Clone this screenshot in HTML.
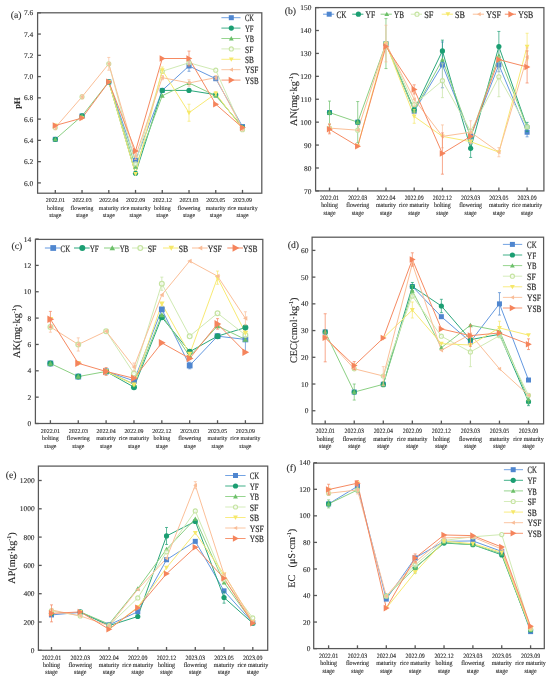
<!DOCTYPE html>
<html><head><meta charset="utf-8"><style>
html,body{margin:0;padding:0;background:#fff;}
body{width:550px;height:681px;overflow:hidden;}
svg{display:block;filter:blur(0.3px);}
text{font-family:"Liberation Serif",serif;fill:#2a2a2a;text-rendering:geometricPrecision;}
.lg{stroke:#2a2a2a;stroke-width:0.2px;}
text{stroke:#2a2a2a;stroke-width:0.12px;}
</style></head><body>
<svg width="550" height="681" viewBox="0 0 550 681">
<rect width="550" height="681" fill="#fff"/>
<path d="M108.79,81.90L135.53,160.57M135.53,160.57L162.27,90.41M162.27,90.41L189.01,65.96M189.01,65.96L215.76,78.71M215.76,78.71L242.50,126.55" fill="none" stroke="#6398e0" stroke-width="1.0" stroke-linecap="round"/>
<path d="M108.79,81.90L135.53,173.33M135.53,173.33L162.27,90.41M162.27,90.41L189.01,90.41M189.01,90.41L215.76,94.66M215.76,94.66L242.50,127.62" fill="none" stroke="#2ba77c" stroke-width="1.0" stroke-linecap="round"/>
<path d="M55.30,139.31L82.04,115.92M82.04,115.92L108.79,81.90M108.79,81.90L135.53,166.95M135.53,166.95L162.27,95.72M162.27,95.72L189.01,82.97M189.01,82.97L215.76,95.72M215.76,95.72L242.50,126.55" fill="none" stroke="#8bd083" stroke-width="1.0" stroke-linecap="round"/>
<path d="M108.79,63.83L135.53,163.76M135.53,163.76L162.27,71.27M162.27,71.27L189.01,62.77M189.01,62.77L215.76,70.21M215.76,70.21L242.50,129.74" fill="none" stroke="#d0eab3" stroke-width="1.0" stroke-linecap="round"/>
<path d="M108.79,81.90L135.53,173.86M135.53,173.86L162.27,70.21M162.27,70.21L189.01,112.73M189.01,112.73L215.76,93.60M215.76,93.60L242.50,128.68" fill="none" stroke="#f8ea74" stroke-width="1.0" stroke-linecap="round"/>
<path d="M55.30,127.62L82.04,96.79M82.04,96.79L108.79,63.83M108.79,63.83L135.53,156.32M135.53,156.32L162.27,77.65M162.27,77.65L189.01,82.97M189.01,82.97L215.76,77.65M215.76,77.65L242.50,128.68" fill="none" stroke="#fbbf98" stroke-width="1.0" stroke-linecap="round"/>
<path d="M55.30,125.49L82.04,118.05M82.04,118.05L108.79,81.90M108.79,81.90L135.53,151.01M135.53,151.01L162.27,58.51M162.27,58.51L189.01,58.51M189.01,58.51L215.76,104.23M215.76,104.23L242.50,127.62" fill="none" stroke="#f68a62" stroke-width="1.0" stroke-linecap="round"/>
<rect x="52.80" y="136.81" width="5.00" height="5.00" fill="#4f86cf"/>
<rect x="79.54" y="113.42" width="5.00" height="5.00" fill="#4f86cf"/>
<rect x="106.29" y="79.40" width="5.00" height="5.00" fill="#4f86cf"/>
<rect x="133.03" y="158.07" width="5.00" height="5.00" fill="#4f86cf"/>
<rect x="159.77" y="87.91" width="5.00" height="5.00" fill="#4f86cf"/>
<path d="M189.01,60.64V71.27M187.51,60.64h3M187.51,71.27h3" stroke="#4f86cf" stroke-width="0.7" fill="none"/>
<rect x="186.51" y="63.46" width="5.00" height="5.00" fill="#4f86cf"/>
<rect x="213.26" y="76.21" width="5.00" height="5.00" fill="#4f86cf"/>
<rect x="240.00" y="124.05" width="5.00" height="5.00" fill="#4f86cf"/>
<circle cx="55.30" cy="139.31" r="2.60" fill="#1b9e72"/>
<circle cx="82.04" cy="115.92" r="2.60" fill="#1b9e72"/>
<circle cx="108.79" cy="81.90" r="2.60" fill="#1b9e72"/>
<circle cx="135.53" cy="173.33" r="2.60" fill="#1b9e72"/>
<circle cx="162.27" cy="90.41" r="2.60" fill="#1b9e72"/>
<circle cx="189.01" cy="90.41" r="2.60" fill="#1b9e72"/>
<circle cx="215.76" cy="94.66" r="2.60" fill="#1b9e72"/>
<circle cx="242.50" cy="127.62" r="2.60" fill="#1b9e72"/>
<path d="M55.30,136.91L57.70,141.23L52.90,141.23Z" fill="#6cc06a"/>
<path d="M82.04,113.52L84.44,117.84L79.64,117.84Z" fill="#6cc06a"/>
<path d="M108.79,79.50L111.19,83.82L106.39,83.82Z" fill="#6cc06a"/>
<path d="M135.53,164.55L137.93,168.87L133.13,168.87Z" fill="#6cc06a"/>
<path d="M162.27,93.32L164.67,97.64L159.87,97.64Z" fill="#6cc06a"/>
<path d="M189.01,80.57L191.41,84.89L186.61,84.89Z" fill="#6cc06a"/>
<path d="M215.76,93.32L218.16,97.64L213.36,97.64Z" fill="#6cc06a"/>
<path d="M242.50,124.15L244.90,128.47L240.10,128.47Z" fill="#6cc06a"/>
<circle cx="55.30" cy="127.62" r="2.05" fill="#fff" fill-opacity="0.6" stroke="#c6e4a2" stroke-width="1.10"/>
<circle cx="82.04" cy="96.79" r="2.05" fill="#fff" fill-opacity="0.6" stroke="#c6e4a2" stroke-width="1.10"/>
<circle cx="108.79" cy="63.83" r="2.05" fill="#fff" fill-opacity="0.6" stroke="#c6e4a2" stroke-width="1.10"/>
<circle cx="135.53" cy="163.76" r="2.05" fill="#fff" fill-opacity="0.6" stroke="#c6e4a2" stroke-width="1.10"/>
<circle cx="162.27" cy="71.27" r="2.05" fill="#fff" fill-opacity="0.6" stroke="#c6e4a2" stroke-width="1.10"/>
<circle cx="189.01" cy="62.77" r="2.05" fill="#fff" fill-opacity="0.6" stroke="#c6e4a2" stroke-width="1.10"/>
<circle cx="215.76" cy="70.21" r="2.05" fill="#fff" fill-opacity="0.6" stroke="#c6e4a2" stroke-width="1.10"/>
<circle cx="242.50" cy="129.74" r="2.05" fill="#fff" fill-opacity="0.6" stroke="#c6e4a2" stroke-width="1.10"/>
<path d="M55.30,127.89L57.70,123.57L52.90,123.57Z" fill="#f6e86a"/>
<path d="M82.04,120.45L84.44,116.13L79.64,116.13Z" fill="#f6e86a"/>
<path d="M108.79,84.30L111.19,79.98L106.39,79.98Z" fill="#f6e86a"/>
<path d="M135.53,176.26L137.93,171.94L133.13,171.94Z" fill="#f6e86a"/>
<path d="M162.27,67.02V73.40M160.77,67.02h3M160.77,73.40h3" stroke="#f6e86a" stroke-width="0.7" fill="none"/>
<path d="M162.27,72.61L164.67,68.29L159.87,68.29Z" fill="#f6e86a"/>
<path d="M189.01,104.23V121.24M187.51,104.23h3M187.51,121.24h3" stroke="#f6e86a" stroke-width="0.7" fill="none"/>
<path d="M189.01,115.13L191.41,110.81L186.61,110.81Z" fill="#f6e86a"/>
<path d="M215.76,91.47V95.72M214.26,91.47h3M214.26,95.72h3" stroke="#f6e86a" stroke-width="0.7" fill="none"/>
<path d="M215.76,96.00L218.16,91.68L213.36,91.68Z" fill="#f6e86a"/>
<path d="M242.50,131.08L244.90,126.76L240.10,126.76Z" fill="#f6e86a"/>
<path d="M55.30,125.49V129.74M53.80,125.49h3M53.80,129.74h3" stroke="#f9bd98" stroke-width="0.7" fill="none"/>
<path d="M53.20,127.62L56.98,125.52L56.98,129.72Z" fill="#f9bd98"/>
<path d="M82.04,94.66V98.91M80.54,94.66h3M80.54,98.91h3" stroke="#f9bd98" stroke-width="0.7" fill="none"/>
<path d="M79.94,96.79L83.72,94.69L83.72,98.89Z" fill="#f9bd98"/>
<path d="M108.79,57.45V70.21M107.29,57.45h3M107.29,70.21h3" stroke="#f9bd98" stroke-width="0.7" fill="none"/>
<path d="M106.69,63.83L110.47,61.73L110.47,65.93Z" fill="#f9bd98"/>
<path d="M135.53,153.13V159.51M134.03,153.13h3M134.03,159.51h3" stroke="#f9bd98" stroke-width="0.7" fill="none"/>
<path d="M133.43,156.32L137.21,154.22L137.21,158.42Z" fill="#f9bd98"/>
<path d="M162.27,75.52V79.78M160.77,75.52h3M160.77,79.78h3" stroke="#f9bd98" stroke-width="0.7" fill="none"/>
<path d="M160.17,77.65L163.95,75.55L163.95,79.75Z" fill="#f9bd98"/>
<path d="M189.01,79.78V86.16M187.51,79.78h3M187.51,86.16h3" stroke="#f9bd98" stroke-width="0.7" fill="none"/>
<path d="M186.91,82.97L190.69,80.87L190.69,85.07Z" fill="#f9bd98"/>
<path d="M215.76,75.52V79.78M214.26,75.52h3M214.26,79.78h3" stroke="#f9bd98" stroke-width="0.7" fill="none"/>
<path d="M213.66,77.65L217.44,75.55L217.44,79.75Z" fill="#f9bd98"/>
<path d="M242.50,126.55V130.81M241.00,126.55h3M241.00,130.81h3" stroke="#f9bd98" stroke-width="0.7" fill="none"/>
<path d="M240.40,128.68L244.18,126.58L244.18,130.78Z" fill="#f9bd98"/>
<path d="M58.60,125.49L52.66,122.19L52.66,128.79Z" fill="#f5845c"/>
<path d="M85.34,118.05L79.40,114.75L79.40,121.35Z" fill="#f5845c"/>
<path d="M112.09,81.90L106.15,78.60L106.15,85.20Z" fill="#f5845c"/>
<path d="M138.83,151.01L132.89,147.71L132.89,154.31Z" fill="#f5845c"/>
<path d="M165.57,58.51L159.63,55.21L159.63,61.81Z" fill="#f5845c"/>
<path d="M189.01,51.07V65.96M187.51,51.07h3M187.51,65.96h3" stroke="#f5845c" stroke-width="0.7" fill="none"/>
<path d="M192.31,58.51L186.37,55.21L186.37,61.81Z" fill="#f5845c"/>
<path d="M219.06,104.23L213.12,100.93L213.12,107.53Z" fill="#f5845c"/>
<path d="M245.80,127.62L239.86,124.32L239.86,130.92Z" fill="#f5845c"/>
<rect x="37.6" y="12.8" width="224.20000000000002" height="180.39999999999998" fill="none" stroke="#585858" stroke-width="1.25"/>
<path d="M37.6,182.90h3.3" stroke="#585858" stroke-width="1.3"/>
<text transform="translate(33.20,185.53) scale(1.02,1)" font-size="7.3" text-anchor="end">6.0</text>
<path d="M37.6,161.64h3.3" stroke="#585858" stroke-width="1.3"/>
<text transform="translate(33.20,164.27) scale(1.02,1)" font-size="7.3" text-anchor="end">6.2</text>
<path d="M37.6,140.37h3.3" stroke="#585858" stroke-width="1.3"/>
<text transform="translate(33.20,143.00) scale(1.02,1)" font-size="7.3" text-anchor="end">6.4</text>
<path d="M37.6,119.11h3.3" stroke="#585858" stroke-width="1.3"/>
<text transform="translate(33.20,121.74) scale(1.02,1)" font-size="7.3" text-anchor="end">6.6</text>
<path d="M37.6,97.85h3.3" stroke="#585858" stroke-width="1.3"/>
<text transform="translate(33.20,100.48) scale(1.02,1)" font-size="7.3" text-anchor="end">6.8</text>
<path d="M37.6,76.59h3.3" stroke="#585858" stroke-width="1.3"/>
<text transform="translate(33.20,79.22) scale(1.02,1)" font-size="7.3" text-anchor="end">7.0</text>
<path d="M37.6,55.32h3.3" stroke="#585858" stroke-width="1.3"/>
<text transform="translate(33.20,57.95) scale(1.02,1)" font-size="7.3" text-anchor="end">7.2</text>
<path d="M37.6,34.06h3.3" stroke="#585858" stroke-width="1.3"/>
<text transform="translate(33.20,36.69) scale(1.02,1)" font-size="7.3" text-anchor="end">7.4</text>
<path d="M37.6,12.80h3.3" stroke="#585858" stroke-width="1.3"/>
<text transform="translate(33.20,15.43) scale(1.02,1)" font-size="7.3" text-anchor="end">7.6</text>
<path d="M55.30,193.2v-3.3" stroke="#585858" stroke-width="1.3"/>
<text transform="translate(55.30,202.30) scale(0.98,1)" font-size="6.0" text-anchor="middle">2022.01</text>
<text transform="translate(55.30,209.80) scale(0.98,1)" font-size="6.0" text-anchor="middle">bolting</text>
<text transform="translate(55.30,217.30) scale(0.98,1)" font-size="6.0" text-anchor="middle">stage</text>
<path d="M82.04,193.2v-3.3" stroke="#585858" stroke-width="1.3"/>
<text transform="translate(82.04,202.30) scale(0.98,1)" font-size="6.0" text-anchor="middle">2022.03</text>
<text transform="translate(82.04,209.80) scale(0.98,1)" font-size="6.0" text-anchor="middle">flowering</text>
<text transform="translate(82.04,217.30) scale(0.98,1)" font-size="6.0" text-anchor="middle">stage</text>
<path d="M108.79,193.2v-3.3" stroke="#585858" stroke-width="1.3"/>
<text transform="translate(108.79,202.30) scale(0.98,1)" font-size="6.0" text-anchor="middle">2022.04</text>
<text transform="translate(108.79,209.80) scale(0.98,1)" font-size="6.0" text-anchor="middle">maturity</text>
<text transform="translate(108.79,217.30) scale(0.98,1)" font-size="6.0" text-anchor="middle">stage</text>
<path d="M135.53,193.2v-3.3" stroke="#585858" stroke-width="1.3"/>
<text transform="translate(135.53,202.30) scale(0.98,1)" font-size="6.0" text-anchor="middle">2022.09</text>
<text transform="translate(135.53,209.80) scale(0.98,1)" font-size="6.0" text-anchor="middle">rice maturity</text>
<text transform="translate(135.53,217.30) scale(0.98,1)" font-size="6.0" text-anchor="middle">stage</text>
<path d="M162.27,193.2v-3.3" stroke="#585858" stroke-width="1.3"/>
<text transform="translate(162.27,202.30) scale(0.98,1)" font-size="6.0" text-anchor="middle">2022.12</text>
<text transform="translate(162.27,209.80) scale(0.98,1)" font-size="6.0" text-anchor="middle">bolting</text>
<text transform="translate(162.27,217.30) scale(0.98,1)" font-size="6.0" text-anchor="middle">stage</text>
<path d="M189.01,193.2v-3.3" stroke="#585858" stroke-width="1.3"/>
<text transform="translate(189.01,202.30) scale(0.98,1)" font-size="6.0" text-anchor="middle">2023.03</text>
<text transform="translate(189.01,209.80) scale(0.98,1)" font-size="6.0" text-anchor="middle">flowering</text>
<text transform="translate(189.01,217.30) scale(0.98,1)" font-size="6.0" text-anchor="middle">stage</text>
<path d="M215.76,193.2v-3.3" stroke="#585858" stroke-width="1.3"/>
<text transform="translate(215.76,202.30) scale(0.98,1)" font-size="6.0" text-anchor="middle">2023.05</text>
<text transform="translate(215.76,209.80) scale(0.98,1)" font-size="6.0" text-anchor="middle">maturity</text>
<text transform="translate(215.76,217.30) scale(0.98,1)" font-size="6.0" text-anchor="middle">stage</text>
<path d="M242.50,193.2v-3.3" stroke="#585858" stroke-width="1.3"/>
<text transform="translate(242.50,202.30) scale(0.98,1)" font-size="6.0" text-anchor="middle">2023.09</text>
<text transform="translate(242.50,209.80) scale(0.98,1)" font-size="6.0" text-anchor="middle">rice maturity</text>
<text transform="translate(242.50,217.30) scale(0.98,1)" font-size="6.0" text-anchor="middle">stage</text>
<text x="10.7" y="18.3" font-size="9.7">(a)</text>
<text transform="translate(19.8,103.0) rotate(-90)" x="0" y="0" font-size="8.6" text-anchor="middle" font-weight="bold">pH</text>
<path d="M221.4,17.70H240.5" stroke="#6398e0" stroke-width="0.9"/>
<rect x="228.80" y="15.20" width="5.00" height="5.00" fill="#4f86cf"/>
<text x="245.0" y="21.35" font-size="9.6" class="lg" textLength="9.01" lengthAdjust="spacingAndGlyphs">CK</text>
<path d="M221.4,28.10H240.5" stroke="#2ba77c" stroke-width="0.9"/>
<circle cx="231.30" cy="28.10" r="2.60" fill="#1b9e72"/>
<text x="245.0" y="31.75" font-size="9.6" class="lg" textLength="8.61" lengthAdjust="spacingAndGlyphs">YF</text>
<path d="M221.4,38.50H240.5" stroke="#8bd083" stroke-width="0.9"/>
<path d="M231.30,36.10L233.70,40.42L228.90,40.42Z" fill="#6cc06a"/>
<text x="245.0" y="42.15" font-size="9.6" class="lg" textLength="8.91" lengthAdjust="spacingAndGlyphs">YB</text>
<path d="M221.4,48.90H240.5" stroke="#d0eab3" stroke-width="0.9"/>
<circle cx="231.30" cy="48.90" r="2.05" fill="#fff" fill-opacity="0.6" stroke="#c6e4a2" stroke-width="1.10"/>
<text x="245.0" y="52.55" font-size="9.6" class="lg" textLength="8.32" lengthAdjust="spacingAndGlyphs">SF</text>
<path d="M221.4,59.30H240.5" stroke="#f8ea74" stroke-width="0.9"/>
<path d="M231.30,61.70L233.70,57.38L228.90,57.38Z" fill="#f6e86a"/>
<text x="245.0" y="62.95" font-size="9.6" class="lg" textLength="8.91" lengthAdjust="spacingAndGlyphs">SB</text>
<path d="M221.4,69.70H240.5" stroke="#fbbf98" stroke-width="0.9"/>
<path d="M229.20,69.70L232.98,67.60L232.98,71.80Z" fill="#f9bd98"/>
<text x="245.0" y="73.35" font-size="9.6" class="lg" textLength="13.37" lengthAdjust="spacingAndGlyphs">YSF</text>
<path d="M221.4,80.10H240.5" stroke="#f68a62" stroke-width="0.9"/>
<path d="M234.60,80.10L228.66,76.80L228.66,83.40Z" fill="#f5845c"/>
<text x="245.0" y="83.75" font-size="9.6" class="lg" textLength="13.56" lengthAdjust="spacingAndGlyphs">YSB</text>
<path d="M385.96,43.57L414.19,111.16M414.19,111.16L442.41,64.88M442.41,64.88L470.64,136.37M470.64,136.37L498.87,64.88M498.87,64.88L527.10,132.24" fill="none" stroke="#6398e0" stroke-width="1.0" stroke-linecap="round"/>
<path d="M385.96,43.57L414.19,109.79M414.19,109.79L442.41,50.90M442.41,50.90L470.64,148.28M470.64,148.28L498.87,46.55M498.87,46.55L527.10,126.97" fill="none" stroke="#2ba77c" stroke-width="1.0" stroke-linecap="round"/>
<path d="M329.50,112.54L357.73,122.16M357.73,122.16L385.96,43.57M385.96,43.57L414.19,110.71M414.19,110.71L442.41,59.61M442.41,59.61L470.64,136.37M470.64,136.37L498.87,55.72M498.87,55.72L527.10,126.97" fill="none" stroke="#8bd083" stroke-width="1.0" stroke-linecap="round"/>
<path d="M385.96,43.57L414.19,104.52M414.19,104.52L442.41,80.69M442.41,80.69L470.64,131.10M470.64,131.10L498.87,76.80M498.87,76.80L527.10,126.97" fill="none" stroke="#d0eab3" stroke-width="1.0" stroke-linecap="round"/>
<path d="M357.73,146.22L385.96,43.57M385.96,43.57L414.19,116.43M414.19,116.43L442.41,136.37M442.41,136.37L470.64,141.64M470.64,141.64L498.87,152.18M498.87,152.18L527.10,46.55" fill="none" stroke="#f8ea74" stroke-width="1.0" stroke-linecap="round"/>
<path d="M329.50,128.12L357.73,130.18M357.73,130.18L385.96,43.57M385.96,43.57L414.19,99.25M414.19,99.25L442.41,136.37M442.41,136.37L470.64,132.24M470.64,132.24L498.87,152.18M498.87,152.18L527.10,57.09" fill="none" stroke="#fbbf98" stroke-width="1.0" stroke-linecap="round"/>
<path d="M329.50,129.27L357.73,146.22M357.73,146.22L385.96,46.55M385.96,46.55L414.19,89.40M414.19,89.40L442.41,153.55M442.41,153.55L470.64,136.37M470.64,136.37L498.87,59.61M498.87,59.61L527.10,66.94" fill="none" stroke="#f68a62" stroke-width="1.0" stroke-linecap="round"/>
<rect x="327.00" y="110.04" width="5.00" height="5.00" fill="#4f86cf"/>
<rect x="355.23" y="119.66" width="5.00" height="5.00" fill="#4f86cf"/>
<rect x="383.46" y="41.07" width="5.00" height="5.00" fill="#4f86cf"/>
<rect x="411.69" y="108.66" width="5.00" height="5.00" fill="#4f86cf"/>
<path d="M442.41,41.97V87.79M440.91,41.97h3M440.91,87.79h3" stroke="#4f86cf" stroke-width="0.7" fill="none"/>
<rect x="439.91" y="62.38" width="5.00" height="5.00" fill="#4f86cf"/>
<path d="M470.64,129.49V143.24M469.14,129.49h3M469.14,143.24h3" stroke="#4f86cf" stroke-width="0.7" fill="none"/>
<rect x="468.14" y="133.87" width="5.00" height="5.00" fill="#4f86cf"/>
<path d="M498.87,58.01V71.75M497.37,58.01h3M497.37,71.75h3" stroke="#4f86cf" stroke-width="0.7" fill="none"/>
<rect x="496.37" y="62.38" width="5.00" height="5.00" fill="#4f86cf"/>
<path d="M527.10,127.66V136.83M525.60,127.66h3M525.60,136.83h3" stroke="#4f86cf" stroke-width="0.7" fill="none"/>
<rect x="524.60" y="129.74" width="5.00" height="5.00" fill="#4f86cf"/>
<circle cx="329.50" cy="112.54" r="2.60" fill="#1b9e72"/>
<circle cx="357.73" cy="122.16" r="2.60" fill="#1b9e72"/>
<circle cx="385.96" cy="43.57" r="2.60" fill="#1b9e72"/>
<circle cx="414.19" cy="109.79" r="2.60" fill="#1b9e72"/>
<path d="M442.41,40.14V61.67M440.91,40.14h3M440.91,61.67h3" stroke="#1b9e72" stroke-width="0.7" fill="none"/>
<circle cx="442.41" cy="50.90" r="2.60" fill="#1b9e72"/>
<path d="M470.64,139.12V157.45M469.14,139.12h3M469.14,157.45h3" stroke="#1b9e72" stroke-width="0.7" fill="none"/>
<circle cx="470.64" cy="148.28" r="2.60" fill="#1b9e72"/>
<path d="M498.87,31.43V61.67M497.37,31.43h3M497.37,61.67h3" stroke="#1b9e72" stroke-width="0.7" fill="none"/>
<circle cx="498.87" cy="46.55" r="2.60" fill="#1b9e72"/>
<path d="M527.10,122.39V131.56M525.60,122.39h3M525.60,131.56h3" stroke="#1b9e72" stroke-width="0.7" fill="none"/>
<circle cx="527.10" cy="126.97" r="2.60" fill="#1b9e72"/>
<path d="M329.50,101.08V124.00M328.00,101.08h3M328.00,124.00h3" stroke="#6cc06a" stroke-width="0.7" fill="none"/>
<path d="M329.50,110.14L331.90,114.46L327.10,114.46Z" fill="#6cc06a"/>
<path d="M357.73,101.54V142.78M356.23,101.54h3M356.23,142.78h3" stroke="#6cc06a" stroke-width="0.7" fill="none"/>
<path d="M357.73,119.76L360.13,124.08L355.33,124.08Z" fill="#6cc06a"/>
<path d="M385.96,18.60V68.55M384.46,18.60h3M384.46,68.55h3" stroke="#6cc06a" stroke-width="0.7" fill="none"/>
<path d="M385.96,41.17L388.36,45.49L383.56,45.49Z" fill="#6cc06a"/>
<path d="M414.19,108.31L416.59,112.63L411.79,112.63Z" fill="#6cc06a"/>
<path d="M442.41,57.21L444.81,61.53L440.01,61.53Z" fill="#6cc06a"/>
<path d="M470.64,133.97L473.04,138.29L468.24,138.29Z" fill="#6cc06a"/>
<path d="M498.87,53.32L501.27,57.64L496.47,57.64Z" fill="#6cc06a"/>
<path d="M527.10,124.57L529.50,128.89L524.70,128.89Z" fill="#6cc06a"/>
<circle cx="329.50" cy="128.12" r="2.05" fill="#fff" fill-opacity="0.6" stroke="#c6e4a2" stroke-width="1.10"/>
<circle cx="357.73" cy="130.18" r="2.05" fill="#fff" fill-opacity="0.6" stroke="#c6e4a2" stroke-width="1.10"/>
<circle cx="385.96" cy="43.57" r="2.05" fill="#fff" fill-opacity="0.6" stroke="#c6e4a2" stroke-width="1.10"/>
<circle cx="414.19" cy="104.52" r="2.05" fill="#fff" fill-opacity="0.6" stroke="#c6e4a2" stroke-width="1.10"/>
<path d="M442.41,63.74V97.65M440.91,63.74h3M440.91,97.65h3" stroke="#c6e4a2" stroke-width="0.7" fill="none"/>
<circle cx="442.41" cy="80.69" r="2.05" fill="#fff" fill-opacity="0.6" stroke="#c6e4a2" stroke-width="1.10"/>
<circle cx="470.64" cy="131.10" r="2.05" fill="#fff" fill-opacity="0.6" stroke="#c6e4a2" stroke-width="1.10"/>
<path d="M498.87,56.86V96.73M497.37,56.86h3M497.37,96.73h3" stroke="#c6e4a2" stroke-width="0.7" fill="none"/>
<circle cx="498.87" cy="76.80" r="2.05" fill="#fff" fill-opacity="0.6" stroke="#c6e4a2" stroke-width="1.10"/>
<circle cx="527.10" cy="126.97" r="2.05" fill="#fff" fill-opacity="0.6" stroke="#c6e4a2" stroke-width="1.10"/>
<path d="M329.50,131.67L331.90,127.35L327.10,127.35Z" fill="#f6e86a"/>
<path d="M357.73,148.62L360.13,144.30L355.33,144.30Z" fill="#f6e86a"/>
<path d="M385.96,45.97L388.36,41.65L383.56,41.65Z" fill="#f6e86a"/>
<path d="M414.19,109.56V123.31M412.69,109.56h3M412.69,123.31h3" stroke="#f6e86a" stroke-width="0.7" fill="none"/>
<path d="M414.19,118.83L416.59,114.51L411.79,114.51Z" fill="#f6e86a"/>
<path d="M442.41,138.77L444.81,134.45L440.01,134.45Z" fill="#f6e86a"/>
<path d="M470.64,144.04L473.04,139.72L468.24,139.72Z" fill="#f6e86a"/>
<path d="M498.87,154.58L501.27,150.26L496.47,150.26Z" fill="#f6e86a"/>
<path d="M527.10,33.26V59.84M525.60,33.26h3M525.60,59.84h3" stroke="#f6e86a" stroke-width="0.7" fill="none"/>
<path d="M527.10,48.95L529.50,44.63L524.70,44.63Z" fill="#f6e86a"/>
<path d="M329.50,123.54V132.70M328.00,123.54h3M328.00,132.70h3" stroke="#f9bd98" stroke-width="0.7" fill="none"/>
<path d="M327.40,128.12L331.18,126.02L331.18,130.22Z" fill="#f9bd98"/>
<path d="M355.63,130.18L359.41,128.08L359.41,132.28Z" fill="#f9bd98"/>
<path d="M385.96,25.24V61.90M384.46,25.24h3M384.46,61.90h3" stroke="#f9bd98" stroke-width="0.7" fill="none"/>
<path d="M383.86,43.57L387.64,41.47L387.64,45.67Z" fill="#f9bd98"/>
<path d="M414.19,92.38V106.12M412.69,92.38h3M412.69,106.12h3" stroke="#f9bd98" stroke-width="0.7" fill="none"/>
<path d="M412.09,99.25L415.87,97.15L415.87,101.35Z" fill="#f9bd98"/>
<path d="M442.41,124.91V147.82M440.91,124.91h3M440.91,147.82h3" stroke="#f9bd98" stroke-width="0.7" fill="none"/>
<path d="M440.31,136.37L444.09,134.27L444.09,138.47Z" fill="#f9bd98"/>
<path d="M470.64,120.79V143.70M469.14,120.79h3M469.14,143.70h3" stroke="#f9bd98" stroke-width="0.7" fill="none"/>
<path d="M468.54,132.24L472.32,130.14L472.32,134.34Z" fill="#f9bd98"/>
<path d="M498.87,147.60V156.76M497.37,147.60h3M497.37,156.76h3" stroke="#f9bd98" stroke-width="0.7" fill="none"/>
<path d="M496.77,152.18L500.55,150.08L500.55,154.28Z" fill="#f9bd98"/>
<path d="M527.10,47.93V66.26M525.60,47.93h3M525.60,66.26h3" stroke="#f9bd98" stroke-width="0.7" fill="none"/>
<path d="M525.00,57.09L528.78,54.99L528.78,59.19Z" fill="#f9bd98"/>
<path d="M329.50,124.68V133.85M328.00,124.68h3M328.00,133.85h3" stroke="#f5845c" stroke-width="0.7" fill="none"/>
<path d="M332.80,129.27L326.86,125.97L326.86,132.57Z" fill="#f5845c"/>
<path d="M361.03,146.22L355.09,142.92L355.09,149.52Z" fill="#f5845c"/>
<path d="M389.26,46.55L383.32,43.25L383.32,49.85Z" fill="#f5845c"/>
<path d="M414.19,84.82V93.98M412.69,84.82h3M412.69,93.98h3" stroke="#f5845c" stroke-width="0.7" fill="none"/>
<path d="M417.49,89.40L411.55,86.10L411.55,92.70Z" fill="#f5845c"/>
<path d="M442.41,132.93V174.17M440.91,132.93h3M440.91,174.17h3" stroke="#f5845c" stroke-width="0.7" fill="none"/>
<path d="M445.71,153.55L439.77,150.25L439.77,156.85Z" fill="#f5845c"/>
<path d="M473.94,136.37L468.00,133.07L468.00,139.67Z" fill="#f5845c"/>
<path d="M502.17,59.61L496.23,56.31L496.23,62.91Z" fill="#f5845c"/>
<path d="M527.10,50.90V82.98M525.60,50.90h3M525.60,82.98h3" stroke="#f5845c" stroke-width="0.7" fill="none"/>
<path d="M530.40,66.94L524.46,63.64L524.46,70.24Z" fill="#f5845c"/>
<rect x="315.6" y="7.6" width="228.29999999999995" height="183.3" fill="none" stroke="#585858" stroke-width="1.25"/>
<path d="M315.6,190.90h3.3" stroke="#585858" stroke-width="1.3"/>
<text transform="translate(311.50,193.53) scale(1.02,1)" font-size="7.3" text-anchor="end">70</text>
<path d="M315.6,167.99h3.3" stroke="#585858" stroke-width="1.3"/>
<text transform="translate(311.50,170.62) scale(1.02,1)" font-size="7.3" text-anchor="end">80</text>
<path d="M315.6,145.07h3.3" stroke="#585858" stroke-width="1.3"/>
<text transform="translate(311.50,147.70) scale(1.02,1)" font-size="7.3" text-anchor="end">90</text>
<path d="M315.6,122.16h3.3" stroke="#585858" stroke-width="1.3"/>
<text transform="translate(311.50,124.79) scale(1.02,1)" font-size="7.3" text-anchor="end">100</text>
<path d="M315.6,99.25h3.3" stroke="#585858" stroke-width="1.3"/>
<text transform="translate(311.50,101.88) scale(1.02,1)" font-size="7.3" text-anchor="end">110</text>
<path d="M315.6,76.34h3.3" stroke="#585858" stroke-width="1.3"/>
<text transform="translate(311.50,78.97) scale(1.02,1)" font-size="7.3" text-anchor="end">120</text>
<path d="M315.6,53.43h3.3" stroke="#585858" stroke-width="1.3"/>
<text transform="translate(311.50,56.05) scale(1.02,1)" font-size="7.3" text-anchor="end">130</text>
<path d="M315.6,30.51h3.3" stroke="#585858" stroke-width="1.3"/>
<text transform="translate(311.50,33.14) scale(1.02,1)" font-size="7.3" text-anchor="end">140</text>
<path d="M315.6,7.60h3.3" stroke="#585858" stroke-width="1.3"/>
<text transform="translate(311.50,10.23) scale(1.02,1)" font-size="7.3" text-anchor="end">150</text>
<path d="M329.50,190.9v-3.3" stroke="#585858" stroke-width="1.3"/>
<text transform="translate(329.50,199.70) scale(0.89,1)" font-size="6.6" text-anchor="middle">2022.01</text>
<text transform="translate(329.50,207.45) scale(0.89,1)" font-size="6.6" text-anchor="middle">bolting</text>
<text transform="translate(329.50,215.20) scale(0.89,1)" font-size="6.6" text-anchor="middle">stage</text>
<path d="M357.73,190.9v-3.3" stroke="#585858" stroke-width="1.3"/>
<text transform="translate(357.73,199.70) scale(0.89,1)" font-size="6.6" text-anchor="middle">2022.03</text>
<text transform="translate(357.73,207.45) scale(0.89,1)" font-size="6.6" text-anchor="middle">flowering</text>
<text transform="translate(357.73,215.20) scale(0.89,1)" font-size="6.6" text-anchor="middle">stage</text>
<path d="M385.96,190.9v-3.3" stroke="#585858" stroke-width="1.3"/>
<text transform="translate(385.96,199.70) scale(0.89,1)" font-size="6.6" text-anchor="middle">2022.04</text>
<text transform="translate(385.96,207.45) scale(0.89,1)" font-size="6.6" text-anchor="middle">maturity</text>
<text transform="translate(385.96,215.20) scale(0.89,1)" font-size="6.6" text-anchor="middle">stage</text>
<path d="M414.19,190.9v-3.3" stroke="#585858" stroke-width="1.3"/>
<text transform="translate(414.19,199.70) scale(0.89,1)" font-size="6.6" text-anchor="middle">2022.09</text>
<text transform="translate(414.19,207.45) scale(0.89,1)" font-size="6.6" text-anchor="middle">rice maturity</text>
<text transform="translate(414.19,215.20) scale(0.89,1)" font-size="6.6" text-anchor="middle">stage</text>
<path d="M442.41,190.9v-3.3" stroke="#585858" stroke-width="1.3"/>
<text transform="translate(442.41,199.70) scale(0.89,1)" font-size="6.6" text-anchor="middle">2022.12</text>
<text transform="translate(442.41,207.45) scale(0.89,1)" font-size="6.6" text-anchor="middle">bolting</text>
<text transform="translate(442.41,215.20) scale(0.89,1)" font-size="6.6" text-anchor="middle">stage</text>
<path d="M470.64,190.9v-3.3" stroke="#585858" stroke-width="1.3"/>
<text transform="translate(470.64,199.70) scale(0.89,1)" font-size="6.6" text-anchor="middle">2023.03</text>
<text transform="translate(470.64,207.45) scale(0.89,1)" font-size="6.6" text-anchor="middle">flowering</text>
<text transform="translate(470.64,215.20) scale(0.89,1)" font-size="6.6" text-anchor="middle">stage</text>
<path d="M498.87,190.9v-3.3" stroke="#585858" stroke-width="1.3"/>
<text transform="translate(498.87,199.70) scale(0.89,1)" font-size="6.6" text-anchor="middle">2023.05</text>
<text transform="translate(498.87,207.45) scale(0.89,1)" font-size="6.6" text-anchor="middle">maturity</text>
<text transform="translate(498.87,215.20) scale(0.89,1)" font-size="6.6" text-anchor="middle">stage</text>
<path d="M527.10,190.9v-3.3" stroke="#585858" stroke-width="1.3"/>
<text transform="translate(527.10,199.70) scale(0.89,1)" font-size="6.6" text-anchor="middle">2023.09</text>
<text transform="translate(527.10,207.45) scale(0.89,1)" font-size="6.6" text-anchor="middle">rice maturity</text>
<text transform="translate(527.10,215.20) scale(0.89,1)" font-size="6.6" text-anchor="middle">stage</text>
<text x="284.8" y="14.3" font-size="9.7">(b)</text>
<text transform="translate(297.2,99.4) rotate(-90)" x="0" y="0" font-size="10.2" text-anchor="middle" >AN(mg&#183;kg<tspan dy='-4' font-size='6'>-1</tspan><tspan dy='4'>)</tspan></text>
<path d="M323.00,14.20H334.20" stroke="#6398e0" stroke-width="1"/>
<rect x="326.70" y="11.70" width="5.00" height="5.00" fill="#4f86cf"/>
<text x="336.40" y="17.92" font-size="9.8" class="lg" textLength="10.01" lengthAdjust="spacingAndGlyphs">CK</text>
<path d="M352.20,14.20H363.40" stroke="#2ba77c" stroke-width="1"/>
<circle cx="358.40" cy="14.20" r="2.60" fill="#1b9e72"/>
<text x="365.60" y="17.92" font-size="9.8" class="lg" textLength="9.57" lengthAdjust="spacingAndGlyphs">YF</text>
<path d="M380.60,14.20H391.80" stroke="#8bd083" stroke-width="1"/>
<path d="M386.80,11.80L389.20,16.12L384.40,16.12Z" fill="#6cc06a"/>
<text x="394.00" y="17.92" font-size="9.8" class="lg" textLength="9.90" lengthAdjust="spacingAndGlyphs">YB</text>
<path d="M410.80,14.20H422.00" stroke="#d0eab3" stroke-width="1"/>
<circle cx="417.00" cy="14.20" r="2.05" fill="#fff" fill-opacity="0.6" stroke="#c6e4a2" stroke-width="1.10"/>
<text x="424.20" y="17.92" font-size="9.8" class="lg" textLength="9.24" lengthAdjust="spacingAndGlyphs">SF</text>
<path d="M441.70,14.20H452.90" stroke="#f8ea74" stroke-width="1"/>
<path d="M447.90,16.60L450.30,12.28L445.50,12.28Z" fill="#f6e86a"/>
<text x="455.10" y="17.92" font-size="9.8" class="lg" textLength="9.90" lengthAdjust="spacingAndGlyphs">SB</text>
<path d="M472.80,14.20H484.00" stroke="#fbbf98" stroke-width="1"/>
<path d="M476.90,14.20L480.68,12.10L480.68,16.30Z" fill="#f9bd98"/>
<text x="486.20" y="17.92" font-size="9.8" class="lg" textLength="14.85" lengthAdjust="spacingAndGlyphs">YSF</text>
<path d="M504.80,14.20H516.00" stroke="#f68a62" stroke-width="1"/>
<path d="M514.30,14.20L508.36,10.90L508.36,17.50Z" fill="#f5845c"/>
<text x="518.20" y="17.92" font-size="9.8" class="lg" textLength="15.07" lengthAdjust="spacingAndGlyphs">YSB</text>
<path d="M106.11,371.46L133.97,380.81M133.97,380.81L161.83,309.40M161.83,309.40L189.69,365.53M189.69,365.53L217.54,336.15M217.54,336.15L245.40,339.44" fill="none" stroke="#6398e0" stroke-width="1.0" stroke-linecap="round"/>
<path d="M106.11,371.46L133.97,387.14M133.97,387.14L161.83,317.18M161.83,317.18L189.69,351.70M189.69,351.70L217.54,336.15M217.54,336.15L245.40,327.59" fill="none" stroke="#2ba77c" stroke-width="1.0" stroke-linecap="round"/>
<path d="M50.40,363.42L78.26,376.60M78.26,376.60L106.11,371.46M106.11,371.46L133.97,383.98M133.97,383.98L161.83,314.94M161.83,314.94L189.69,356.31M189.69,356.31L217.54,326.00M217.54,326.00L245.40,339.44" fill="none" stroke="#8bd083" stroke-width="1.0" stroke-linecap="round"/>
<path d="M106.11,331.27L133.97,373.44M133.97,373.44L161.83,283.71M161.83,283.71L189.69,336.15M189.69,336.15L217.54,313.23M217.54,313.23L245.40,334.96" fill="none" stroke="#d0eab3" stroke-width="1.0" stroke-linecap="round"/>
<path d="M106.11,371.46L133.97,384.63M133.97,384.63L161.83,303.74M161.83,303.74L189.69,354.07M189.69,354.07L217.54,277.65M217.54,277.65L245.40,332.86" fill="none" stroke="#f8ea74" stroke-width="1.0" stroke-linecap="round"/>
<path d="M50.40,326.93L78.26,344.45M78.26,344.45L106.11,331.27M106.11,331.27L133.97,366.98M133.97,366.98L161.83,294.91M161.83,294.91L189.69,261.05M189.69,261.05L217.54,276.20M217.54,276.20L245.40,318.36" fill="none" stroke="#fbbf98" stroke-width="1.0" stroke-linecap="round"/>
<path d="M50.40,319.29L78.26,363.29M78.26,363.29L106.11,371.46M106.11,371.46L133.97,378.31M133.97,378.31L161.83,342.87M161.83,342.87L189.69,358.42M189.69,358.42L217.54,323.90M217.54,323.90L245.40,352.22" fill="none" stroke="#f68a62" stroke-width="1.0" stroke-linecap="round"/>
<rect x="47.52" y="360.55" width="5.75" height="5.75" fill="#4f86cf"/>
<rect x="75.38" y="373.72" width="5.75" height="5.75" fill="#4f86cf"/>
<rect x="103.24" y="368.58" width="5.75" height="5.75" fill="#4f86cf"/>
<rect x="131.10" y="377.94" width="5.75" height="5.75" fill="#4f86cf"/>
<rect x="158.95" y="306.53" width="5.75" height="5.75" fill="#4f86cf"/>
<path d="M189.69,362.24V368.82M188.19,362.24h3M188.19,368.82h3" stroke="#4f86cf" stroke-width="0.7" fill="none"/>
<rect x="186.81" y="362.65" width="5.75" height="5.75" fill="#4f86cf"/>
<rect x="214.67" y="333.27" width="5.75" height="5.75" fill="#4f86cf"/>
<path d="M245.40,326.27V352.62M243.90,326.27h3M243.90,352.62h3" stroke="#4f86cf" stroke-width="0.7" fill="none"/>
<rect x="242.53" y="336.57" width="5.75" height="5.75" fill="#4f86cf"/>
<circle cx="50.40" cy="363.42" r="2.99" fill="#1b9e72"/>
<circle cx="78.26" cy="376.60" r="2.99" fill="#1b9e72"/>
<circle cx="106.11" cy="371.46" r="2.99" fill="#1b9e72"/>
<circle cx="133.97" cy="387.14" r="2.99" fill="#1b9e72"/>
<circle cx="161.83" cy="317.18" r="2.99" fill="#1b9e72"/>
<circle cx="189.69" cy="351.70" r="2.99" fill="#1b9e72"/>
<circle cx="217.54" cy="336.15" r="2.99" fill="#1b9e72"/>
<circle cx="245.40" cy="327.59" r="2.99" fill="#1b9e72"/>
<path d="M50.40,360.66L53.16,365.63L47.64,365.63Z" fill="#6cc06a"/>
<path d="M78.26,373.84L81.02,378.81L75.50,378.81Z" fill="#6cc06a"/>
<path d="M106.11,368.70L108.87,373.67L103.35,373.67Z" fill="#6cc06a"/>
<path d="M133.97,381.22L136.73,386.18L131.21,386.18Z" fill="#6cc06a"/>
<path d="M161.83,312.18L164.59,317.15L159.07,317.15Z" fill="#6cc06a"/>
<path d="M189.69,353.55L192.45,358.52L186.93,358.52Z" fill="#6cc06a"/>
<path d="M217.54,323.25L220.30,328.21L214.78,328.21Z" fill="#6cc06a"/>
<path d="M245.40,336.68L248.16,341.65L242.64,341.65Z" fill="#6cc06a"/>
<circle cx="50.40" cy="326.93" r="2.36" fill="#fff" fill-opacity="0.6" stroke="#c6e4a2" stroke-width="1.26"/>
<circle cx="78.26" cy="344.45" r="2.36" fill="#fff" fill-opacity="0.6" stroke="#c6e4a2" stroke-width="1.26"/>
<circle cx="106.11" cy="331.27" r="2.36" fill="#fff" fill-opacity="0.6" stroke="#c6e4a2" stroke-width="1.26"/>
<circle cx="133.97" cy="373.44" r="2.36" fill="#fff" fill-opacity="0.6" stroke="#c6e4a2" stroke-width="1.26"/>
<path d="M161.83,277.13V290.30M160.33,277.13h3M160.33,290.30h3" stroke="#c6e4a2" stroke-width="0.7" fill="none"/>
<circle cx="161.83" cy="283.71" r="2.36" fill="#fff" fill-opacity="0.6" stroke="#c6e4a2" stroke-width="1.26"/>
<circle cx="189.69" cy="336.15" r="2.36" fill="#fff" fill-opacity="0.6" stroke="#c6e4a2" stroke-width="1.26"/>
<circle cx="217.54" cy="313.23" r="2.36" fill="#fff" fill-opacity="0.6" stroke="#c6e4a2" stroke-width="1.26"/>
<circle cx="245.40" cy="334.96" r="2.36" fill="#fff" fill-opacity="0.6" stroke="#c6e4a2" stroke-width="1.26"/>
<path d="M50.40,322.05L53.16,317.08L47.64,317.08Z" fill="#f6e86a"/>
<path d="M78.26,366.05L81.02,361.08L75.50,361.08Z" fill="#f6e86a"/>
<path d="M106.11,374.22L108.87,369.25L103.35,369.25Z" fill="#f6e86a"/>
<path d="M133.97,387.39L136.73,382.43L131.21,382.43Z" fill="#f6e86a"/>
<path d="M161.83,306.50L164.59,301.53L159.07,301.53Z" fill="#f6e86a"/>
<path d="M189.69,356.83L192.45,351.86L186.93,351.86Z" fill="#f6e86a"/>
<path d="M217.54,271.07V284.24M216.04,271.07h3M216.04,284.24h3" stroke="#f6e86a" stroke-width="0.7" fill="none"/>
<path d="M217.54,280.41L220.30,275.44L214.78,275.44Z" fill="#f6e86a"/>
<path d="M245.40,335.62L248.16,330.65L242.64,330.65Z" fill="#f6e86a"/>
<path d="M50.40,321.66V332.20M48.90,321.66h3M48.90,332.20h3" stroke="#f9bd98" stroke-width="0.7" fill="none"/>
<path d="M47.98,326.93L52.33,324.51L52.33,329.34Z" fill="#f9bd98"/>
<path d="M78.26,337.86V351.04M76.76,337.86h3M76.76,351.04h3" stroke="#f9bd98" stroke-width="0.7" fill="none"/>
<path d="M75.84,344.45L80.19,342.03L80.19,346.87Z" fill="#f9bd98"/>
<path d="M103.70,331.27L108.05,328.86L108.05,333.69Z" fill="#f9bd98"/>
<path d="M133.97,363.03V370.93M132.47,363.03h3M132.47,370.93h3" stroke="#f9bd98" stroke-width="0.7" fill="none"/>
<path d="M131.56,366.98L135.90,364.56L135.90,369.39Z" fill="#f9bd98"/>
<path d="M159.41,294.91L163.76,292.50L163.76,297.33Z" fill="#f9bd98"/>
<path d="M187.27,261.05L191.62,258.64L191.62,263.47Z" fill="#f9bd98"/>
<path d="M215.13,276.20L219.47,273.79L219.47,278.62Z" fill="#f9bd98"/>
<path d="M245.40,311.78V324.95M243.90,311.78h3M243.90,324.95h3" stroke="#f9bd98" stroke-width="0.7" fill="none"/>
<path d="M242.99,318.36L247.33,315.95L247.33,320.78Z" fill="#f9bd98"/>
<path d="M50.40,311.38V327.19M48.90,311.38h3M48.90,327.19h3" stroke="#f5845c" stroke-width="0.7" fill="none"/>
<path d="M54.20,319.29L47.36,315.49L47.36,323.08Z" fill="#f5845c"/>
<path d="M82.05,363.29L75.22,359.50L75.22,367.09Z" fill="#f5845c"/>
<path d="M106.11,367.51V375.41M104.61,367.51h3M104.61,375.41h3" stroke="#f5845c" stroke-width="0.7" fill="none"/>
<path d="M109.91,371.46L103.08,367.66L103.08,375.25Z" fill="#f5845c"/>
<path d="M137.77,378.31L130.94,374.51L130.94,382.10Z" fill="#f5845c"/>
<path d="M165.62,342.87L158.79,339.07L158.79,346.66Z" fill="#f5845c"/>
<path d="M193.48,358.42L186.65,354.62L186.65,362.21Z" fill="#f5845c"/>
<path d="M217.54,318.63V329.17M216.04,318.63h3M216.04,329.17h3" stroke="#f5845c" stroke-width="0.7" fill="none"/>
<path d="M221.34,323.90L214.51,320.10L214.51,327.69Z" fill="#f5845c"/>
<path d="M249.19,352.22L242.36,348.43L242.36,356.02Z" fill="#f5845c"/>
<rect x="35.4" y="239.4" width="227.4" height="184.1" fill="none" stroke="#585858" stroke-width="1.25"/>
<path d="M35.4,423.50h3.3" stroke="#585858" stroke-width="1.3"/>
<text transform="translate(31.20,426.13) scale(1.02,1)" font-size="7.3" text-anchor="end">0</text>
<path d="M35.4,397.15h3.3" stroke="#585858" stroke-width="1.3"/>
<text transform="translate(31.20,399.78) scale(1.02,1)" font-size="7.3" text-anchor="end">2</text>
<path d="M35.4,370.80h3.3" stroke="#585858" stroke-width="1.3"/>
<text transform="translate(31.20,373.43) scale(1.02,1)" font-size="7.3" text-anchor="end">4</text>
<path d="M35.4,344.45h3.3" stroke="#585858" stroke-width="1.3"/>
<text transform="translate(31.20,347.08) scale(1.02,1)" font-size="7.3" text-anchor="end">6</text>
<path d="M35.4,318.10h3.3" stroke="#585858" stroke-width="1.3"/>
<text transform="translate(31.20,320.73) scale(1.02,1)" font-size="7.3" text-anchor="end">8</text>
<path d="M35.4,291.75h3.3" stroke="#585858" stroke-width="1.3"/>
<text transform="translate(31.20,294.38) scale(1.02,1)" font-size="7.3" text-anchor="end">10</text>
<path d="M35.4,265.40h3.3" stroke="#585858" stroke-width="1.3"/>
<text transform="translate(31.20,268.03) scale(1.02,1)" font-size="7.3" text-anchor="end">12</text>
<path d="M35.4,239.05h3.3" stroke="#585858" stroke-width="1.3"/>
<text transform="translate(31.20,241.68) scale(1.02,1)" font-size="7.3" text-anchor="end">14</text>
<path d="M50.40,423.5v-3.3" stroke="#585858" stroke-width="1.3"/>
<text transform="translate(50.40,432.70) scale(0.98,1)" font-size="6.0" text-anchor="middle">2022.01</text>
<text transform="translate(50.40,440.20) scale(0.98,1)" font-size="6.0" text-anchor="middle">bolting</text>
<text transform="translate(50.40,447.70) scale(0.98,1)" font-size="6.0" text-anchor="middle">stage</text>
<path d="M78.26,423.5v-3.3" stroke="#585858" stroke-width="1.3"/>
<text transform="translate(78.26,432.70) scale(0.98,1)" font-size="6.0" text-anchor="middle">2022.03</text>
<text transform="translate(78.26,440.20) scale(0.98,1)" font-size="6.0" text-anchor="middle">flowering</text>
<text transform="translate(78.26,447.70) scale(0.98,1)" font-size="6.0" text-anchor="middle">stage</text>
<path d="M106.11,423.5v-3.3" stroke="#585858" stroke-width="1.3"/>
<text transform="translate(106.11,432.70) scale(0.98,1)" font-size="6.0" text-anchor="middle">2022.04</text>
<text transform="translate(106.11,440.20) scale(0.98,1)" font-size="6.0" text-anchor="middle">maturity</text>
<text transform="translate(106.11,447.70) scale(0.98,1)" font-size="6.0" text-anchor="middle">stage</text>
<path d="M133.97,423.5v-3.3" stroke="#585858" stroke-width="1.3"/>
<text transform="translate(133.97,432.70) scale(0.98,1)" font-size="6.0" text-anchor="middle">2022.09</text>
<text transform="translate(133.97,440.20) scale(0.98,1)" font-size="6.0" text-anchor="middle">rice maturity</text>
<text transform="translate(133.97,447.70) scale(0.98,1)" font-size="6.0" text-anchor="middle">stage</text>
<path d="M161.83,423.5v-3.3" stroke="#585858" stroke-width="1.3"/>
<text transform="translate(161.83,432.70) scale(0.98,1)" font-size="6.0" text-anchor="middle">2022.12</text>
<text transform="translate(161.83,440.20) scale(0.98,1)" font-size="6.0" text-anchor="middle">bolting</text>
<text transform="translate(161.83,447.70) scale(0.98,1)" font-size="6.0" text-anchor="middle">stage</text>
<path d="M189.69,423.5v-3.3" stroke="#585858" stroke-width="1.3"/>
<text transform="translate(189.69,432.70) scale(0.98,1)" font-size="6.0" text-anchor="middle">2023.03</text>
<text transform="translate(189.69,440.20) scale(0.98,1)" font-size="6.0" text-anchor="middle">flowering</text>
<text transform="translate(189.69,447.70) scale(0.98,1)" font-size="6.0" text-anchor="middle">stage</text>
<path d="M217.54,423.5v-3.3" stroke="#585858" stroke-width="1.3"/>
<text transform="translate(217.54,432.70) scale(0.98,1)" font-size="6.0" text-anchor="middle">2023.05</text>
<text transform="translate(217.54,440.20) scale(0.98,1)" font-size="6.0" text-anchor="middle">maturity</text>
<text transform="translate(217.54,447.70) scale(0.98,1)" font-size="6.0" text-anchor="middle">stage</text>
<path d="M245.40,423.5v-3.3" stroke="#585858" stroke-width="1.3"/>
<text transform="translate(245.40,432.70) scale(0.98,1)" font-size="6.0" text-anchor="middle">2023.09</text>
<text transform="translate(245.40,440.20) scale(0.98,1)" font-size="6.0" text-anchor="middle">rice maturity</text>
<text transform="translate(245.40,447.70) scale(0.98,1)" font-size="6.0" text-anchor="middle">stage</text>
<text x="11.6" y="248.5" font-size="9.7">(c)</text>
<text transform="translate(20.4,331.4) rotate(-90)" x="0" y="0" font-size="10.2" text-anchor="middle" >AK(mg&#183;kg<tspan dy='-4' font-size='6'>-1</tspan><tspan dy='4'>)</tspan></text>
<path d="M44.90,248.00H60.60" stroke="#6398e0" stroke-width="1"/>
<rect x="50.33" y="245.12" width="5.75" height="5.75" fill="#4f86cf"/>
<text x="60.60" y="251.65" font-size="9.6" class="lg" textLength="9.55" lengthAdjust="spacingAndGlyphs">CK</text>
<path d="M74.00,248.00H89.70" stroke="#2ba77c" stroke-width="1"/>
<circle cx="82.30" cy="248.00" r="2.99" fill="#1b9e72"/>
<text x="89.70" y="251.65" font-size="9.6" class="lg" textLength="9.13" lengthAdjust="spacingAndGlyphs">YF</text>
<path d="M104.00,248.00H119.70" stroke="#8bd083" stroke-width="1"/>
<path d="M112.30,245.24L115.06,250.21L109.54,250.21Z" fill="#6cc06a"/>
<text x="119.70" y="251.65" font-size="9.6" class="lg" textLength="9.45" lengthAdjust="spacingAndGlyphs">YB</text>
<path d="M132.00,248.00H147.70" stroke="#d0eab3" stroke-width="1"/>
<circle cx="140.30" cy="248.00" r="2.36" fill="#fff" fill-opacity="0.6" stroke="#c6e4a2" stroke-width="1.26"/>
<text x="147.70" y="251.65" font-size="9.6" class="lg" textLength="8.82" lengthAdjust="spacingAndGlyphs">SF</text>
<path d="M163.00,248.00H178.70" stroke="#f8ea74" stroke-width="1"/>
<path d="M171.30,250.76L174.06,245.79L168.54,245.79Z" fill="#f6e86a"/>
<text x="178.70" y="251.65" font-size="9.6" class="lg" textLength="9.45" lengthAdjust="spacingAndGlyphs">SB</text>
<path d="M192.00,248.00H207.70" stroke="#fbbf98" stroke-width="1"/>
<path d="M197.89,248.00L202.23,245.59L202.23,250.41Z" fill="#f9bd98"/>
<text x="207.70" y="251.65" font-size="9.6" class="lg" textLength="14.18" lengthAdjust="spacingAndGlyphs">YSF</text>
<path d="M227.30,248.00H243.00" stroke="#f68a62" stroke-width="1"/>
<path d="M239.39,248.00L232.56,244.21L232.56,251.79Z" fill="#f5845c"/>
<text x="243.00" y="251.65" font-size="9.6" class="lg" textLength="14.38" lengthAdjust="spacingAndGlyphs">YSB</text>
<path d="M412.33,286.48L441.37,316.68M441.37,316.68L470.41,341.80M470.41,341.80L499.46,303.85M499.46,303.85L528.50,380.02" fill="none" stroke="#6398e0" stroke-width="1.0" stroke-linecap="round"/>
<path d="M383.29,384.29L412.33,286.48M412.33,286.48L441.37,305.99M441.37,305.99L470.41,339.66M470.41,339.66L499.46,334.32M499.46,334.32L528.50,401.66" fill="none" stroke="#2ba77c" stroke-width="1.0" stroke-linecap="round"/>
<path d="M325.20,331.91L354.24,392.04M354.24,392.04L383.29,384.29M383.29,384.29L412.33,290.75M412.33,290.75L441.37,347.68M441.37,347.68L470.41,325.23M470.41,325.23L499.46,330.84M499.46,330.84L528.50,399.26" fill="none" stroke="#8bd083" stroke-width="1.0" stroke-linecap="round"/>
<path d="M383.29,376.01L412.33,296.10M412.33,296.10L441.37,336.19M441.37,336.19L470.41,351.95M470.41,351.95L499.46,335.65M499.46,335.65L528.50,395.25" fill="none" stroke="#d0eab3" stroke-width="1.0" stroke-linecap="round"/>
<path d="M383.29,338.06L412.33,310.00M412.33,310.00L441.37,343.67M441.37,343.67L470.41,345.01M470.41,345.01L499.46,327.90M499.46,327.90L528.50,335.12" fill="none" stroke="#f8ea74" stroke-width="1.0" stroke-linecap="round"/>
<path d="M325.20,337.26L354.24,368.79M354.24,368.79L383.29,376.01M383.29,376.01L412.33,263.76M412.33,263.76L441.37,350.35M441.37,350.35L470.41,334.32M470.41,334.32L499.46,368.79M499.46,368.79L528.50,395.25" fill="none" stroke="#fbbf98" stroke-width="1.0" stroke-linecap="round"/>
<path d="M325.20,337.79L354.24,365.58M354.24,365.58L383.29,338.06M383.29,338.06L412.33,259.49M412.33,259.49L441.37,328.97M441.37,328.97L470.41,335.65M470.41,335.65L499.46,332.98M499.46,332.98L528.50,344.20" fill="none" stroke="#f68a62" stroke-width="1.0" stroke-linecap="round"/>
<rect x="322.70" y="329.41" width="5.00" height="5.00" fill="#4f86cf"/>
<rect x="351.74" y="389.54" width="5.00" height="5.00" fill="#4f86cf"/>
<rect x="380.79" y="381.79" width="5.00" height="5.00" fill="#4f86cf"/>
<rect x="409.83" y="283.98" width="5.00" height="5.00" fill="#4f86cf"/>
<rect x="438.87" y="314.18" width="5.00" height="5.00" fill="#4f86cf"/>
<rect x="467.91" y="339.30" width="5.00" height="5.00" fill="#4f86cf"/>
<path d="M499.46,292.63V315.07M497.96,292.63h3M497.96,315.07h3" stroke="#4f86cf" stroke-width="0.7" fill="none"/>
<rect x="496.96" y="301.35" width="5.00" height="5.00" fill="#4f86cf"/>
<rect x="526.00" y="377.52" width="5.00" height="5.00" fill="#4f86cf"/>
<circle cx="325.20" cy="331.91" r="2.60" fill="#1b9e72"/>
<circle cx="354.24" cy="392.04" r="2.60" fill="#1b9e72"/>
<circle cx="383.29" cy="384.29" r="2.60" fill="#1b9e72"/>
<path d="M412.33,282.47V290.49M410.83,282.47h3M410.83,290.49h3" stroke="#1b9e72" stroke-width="0.7" fill="none"/>
<circle cx="412.33" cy="286.48" r="2.60" fill="#1b9e72"/>
<path d="M441.37,299.31V312.67M439.87,299.31h3M439.87,312.67h3" stroke="#1b9e72" stroke-width="0.7" fill="none"/>
<circle cx="441.37" cy="305.99" r="2.60" fill="#1b9e72"/>
<circle cx="470.41" cy="339.66" r="2.60" fill="#1b9e72"/>
<circle cx="499.46" cy="334.32" r="2.60" fill="#1b9e72"/>
<path d="M528.50,397.65V405.67M527.00,397.65h3M527.00,405.67h3" stroke="#1b9e72" stroke-width="0.7" fill="none"/>
<circle cx="528.50" cy="401.66" r="2.60" fill="#1b9e72"/>
<path d="M325.20,329.51L327.60,333.83L322.80,333.83Z" fill="#6cc06a"/>
<path d="M354.24,384.02V400.06M352.74,384.02h3M352.74,400.06h3" stroke="#6cc06a" stroke-width="0.7" fill="none"/>
<path d="M354.24,389.64L356.64,393.96L351.84,393.96Z" fill="#6cc06a"/>
<path d="M383.29,381.62V386.96M381.79,381.62h3M381.79,386.96h3" stroke="#6cc06a" stroke-width="0.7" fill="none"/>
<path d="M383.29,381.89L385.69,386.21L380.89,386.21Z" fill="#6cc06a"/>
<path d="M412.33,285.41V296.10M410.83,285.41h3M410.83,296.10h3" stroke="#6cc06a" stroke-width="0.7" fill="none"/>
<path d="M412.33,288.35L414.73,292.67L409.93,292.67Z" fill="#6cc06a"/>
<path d="M441.37,345.28L443.77,349.60L438.97,349.60Z" fill="#6cc06a"/>
<path d="M470.41,322.83L472.81,327.15L468.01,327.15Z" fill="#6cc06a"/>
<path d="M499.46,328.44L501.86,332.76L497.06,332.76Z" fill="#6cc06a"/>
<path d="M528.50,395.25V403.27M527.00,395.25h3M527.00,403.27h3" stroke="#6cc06a" stroke-width="0.7" fill="none"/>
<path d="M528.50,396.86L530.90,401.18L526.10,401.18Z" fill="#6cc06a"/>
<circle cx="325.20" cy="337.26" r="2.05" fill="#fff" fill-opacity="0.6" stroke="#c6e4a2" stroke-width="1.10"/>
<circle cx="354.24" cy="368.79" r="2.05" fill="#fff" fill-opacity="0.6" stroke="#c6e4a2" stroke-width="1.10"/>
<circle cx="383.29" cy="376.01" r="2.05" fill="#fff" fill-opacity="0.6" stroke="#c6e4a2" stroke-width="1.10"/>
<circle cx="412.33" cy="296.10" r="2.05" fill="#fff" fill-opacity="0.6" stroke="#c6e4a2" stroke-width="1.10"/>
<circle cx="441.37" cy="336.19" r="2.05" fill="#fff" fill-opacity="0.6" stroke="#c6e4a2" stroke-width="1.10"/>
<path d="M470.41,337.26V366.65M468.91,337.26h3M468.91,366.65h3" stroke="#c6e4a2" stroke-width="0.7" fill="none"/>
<circle cx="470.41" cy="351.95" r="2.05" fill="#fff" fill-opacity="0.6" stroke="#c6e4a2" stroke-width="1.10"/>
<circle cx="499.46" cy="335.65" r="2.05" fill="#fff" fill-opacity="0.6" stroke="#c6e4a2" stroke-width="1.10"/>
<circle cx="528.50" cy="395.25" r="2.05" fill="#fff" fill-opacity="0.6" stroke="#c6e4a2" stroke-width="1.10"/>
<path d="M325.20,340.19L327.60,335.87L322.80,335.87Z" fill="#f6e86a"/>
<path d="M354.24,367.98L356.64,363.66L351.84,363.66Z" fill="#f6e86a"/>
<path d="M383.29,340.46L385.69,336.14L380.89,336.14Z" fill="#f6e86a"/>
<path d="M412.33,301.98V318.01M410.83,301.98h3M410.83,318.01h3" stroke="#f6e86a" stroke-width="0.7" fill="none"/>
<path d="M412.33,312.40L414.73,308.08L409.93,308.08Z" fill="#f6e86a"/>
<path d="M441.37,346.07L443.77,341.75L438.97,341.75Z" fill="#f6e86a"/>
<path d="M470.41,347.41L472.81,343.09L468.01,343.09Z" fill="#f6e86a"/>
<path d="M499.46,321.22V334.58M497.96,321.22h3M497.96,334.58h3" stroke="#f6e86a" stroke-width="0.7" fill="none"/>
<path d="M499.46,330.30L501.86,325.98L497.06,325.98Z" fill="#f6e86a"/>
<path d="M528.50,337.52L530.90,333.20L526.10,333.20Z" fill="#f6e86a"/>
<path d="M323.10,337.26L326.88,335.16L326.88,339.36Z" fill="#f9bd98"/>
<path d="M352.14,368.79L355.92,366.69L355.92,370.89Z" fill="#f9bd98"/>
<path d="M383.29,366.65V385.36M381.79,366.65h3M381.79,385.36h3" stroke="#f9bd98" stroke-width="0.7" fill="none"/>
<path d="M381.19,376.01L384.97,373.91L384.97,378.11Z" fill="#f9bd98"/>
<path d="M410.23,263.76L414.01,261.66L414.01,265.86Z" fill="#f9bd98"/>
<path d="M439.27,350.35L443.05,348.25L443.05,352.45Z" fill="#f9bd98"/>
<path d="M468.31,334.32L472.09,332.22L472.09,336.42Z" fill="#f9bd98"/>
<path d="M497.36,368.79L501.14,366.69L501.14,370.89Z" fill="#f9bd98"/>
<path d="M526.40,395.25L530.18,393.15L530.18,397.35Z" fill="#f9bd98"/>
<path d="M325.20,313.74V361.84M323.70,313.74h3M323.70,361.84h3" stroke="#f5845c" stroke-width="0.7" fill="none"/>
<path d="M328.50,337.79L322.56,334.49L322.56,341.09Z" fill="#f5845c"/>
<path d="M354.24,361.58V369.59M352.74,361.58h3M352.74,369.59h3" stroke="#f5845c" stroke-width="0.7" fill="none"/>
<path d="M357.54,365.58L351.60,362.28L351.60,368.88Z" fill="#f5845c"/>
<path d="M386.59,338.06L380.65,334.76L380.65,341.36Z" fill="#f5845c"/>
<path d="M412.33,252.81V266.17M410.83,252.81h3M410.83,266.17h3" stroke="#f5845c" stroke-width="0.7" fill="none"/>
<path d="M415.63,259.49L409.69,256.19L409.69,262.79Z" fill="#f5845c"/>
<path d="M444.67,328.97L438.73,325.67L438.73,332.27Z" fill="#f5845c"/>
<path d="M470.41,324.96V346.34M468.91,324.96h3M468.91,346.34h3" stroke="#f5845c" stroke-width="0.7" fill="none"/>
<path d="M473.71,335.65L467.77,332.35L467.77,338.95Z" fill="#f5845c"/>
<path d="M502.76,332.98L496.82,329.68L496.82,336.28Z" fill="#f5845c"/>
<path d="M528.50,338.86V349.55M527.00,338.86h3M527.00,349.55h3" stroke="#f5845c" stroke-width="0.7" fill="none"/>
<path d="M531.80,344.20L525.86,340.90L525.86,347.50Z" fill="#f5845c"/>
<rect x="312.1" y="237.2" width="231.5" height="186.7" fill="none" stroke="#585858" stroke-width="1.25"/>
<path d="M312.1,410.75h3.3" stroke="#585858" stroke-width="1.3"/>
<text transform="translate(308.40,413.38) scale(1.02,1)" font-size="7.3" text-anchor="end">0</text>
<path d="M312.1,384.02h3.3" stroke="#585858" stroke-width="1.3"/>
<text transform="translate(308.40,386.65) scale(1.02,1)" font-size="7.3" text-anchor="end">10</text>
<path d="M312.1,357.30h3.3" stroke="#585858" stroke-width="1.3"/>
<text transform="translate(308.40,359.93) scale(1.02,1)" font-size="7.3" text-anchor="end">20</text>
<path d="M312.1,330.57h3.3" stroke="#585858" stroke-width="1.3"/>
<text transform="translate(308.40,333.20) scale(1.02,1)" font-size="7.3" text-anchor="end">30</text>
<path d="M312.1,303.85h3.3" stroke="#585858" stroke-width="1.3"/>
<text transform="translate(308.40,306.48) scale(1.02,1)" font-size="7.3" text-anchor="end">40</text>
<path d="M312.1,277.12h3.3" stroke="#585858" stroke-width="1.3"/>
<text transform="translate(308.40,279.75) scale(1.02,1)" font-size="7.3" text-anchor="end">50</text>
<path d="M312.1,250.40h3.3" stroke="#585858" stroke-width="1.3"/>
<text transform="translate(308.40,253.03) scale(1.02,1)" font-size="7.3" text-anchor="end">60</text>
<path d="M325.20,423.9v-3.3" stroke="#585858" stroke-width="1.3"/>
<text transform="translate(325.20,433.20) scale(0.9,1)" font-size="6.6" text-anchor="middle">2022.01</text>
<text transform="translate(325.20,440.70) scale(0.9,1)" font-size="6.6" text-anchor="middle">bolting</text>
<text transform="translate(325.20,448.20) scale(0.9,1)" font-size="6.6" text-anchor="middle">stage</text>
<path d="M354.24,423.9v-3.3" stroke="#585858" stroke-width="1.3"/>
<text transform="translate(354.24,433.20) scale(0.9,1)" font-size="6.6" text-anchor="middle">2022.03</text>
<text transform="translate(354.24,440.70) scale(0.9,1)" font-size="6.6" text-anchor="middle">flowering</text>
<text transform="translate(354.24,448.20) scale(0.9,1)" font-size="6.6" text-anchor="middle">stage</text>
<path d="M383.29,423.9v-3.3" stroke="#585858" stroke-width="1.3"/>
<text transform="translate(383.29,433.20) scale(0.9,1)" font-size="6.6" text-anchor="middle">2022.04</text>
<text transform="translate(383.29,440.70) scale(0.9,1)" font-size="6.6" text-anchor="middle">maturity</text>
<text transform="translate(383.29,448.20) scale(0.9,1)" font-size="6.6" text-anchor="middle">stage</text>
<path d="M412.33,423.9v-3.3" stroke="#585858" stroke-width="1.3"/>
<text transform="translate(412.33,433.20) scale(0.9,1)" font-size="6.6" text-anchor="middle">2022.09</text>
<text transform="translate(412.33,440.70) scale(0.9,1)" font-size="6.6" text-anchor="middle">rice maturity</text>
<text transform="translate(412.33,448.20) scale(0.9,1)" font-size="6.6" text-anchor="middle">stage</text>
<path d="M441.37,423.9v-3.3" stroke="#585858" stroke-width="1.3"/>
<text transform="translate(441.37,433.20) scale(0.9,1)" font-size="6.6" text-anchor="middle">2022.12</text>
<text transform="translate(441.37,440.70) scale(0.9,1)" font-size="6.6" text-anchor="middle">bolting</text>
<text transform="translate(441.37,448.20) scale(0.9,1)" font-size="6.6" text-anchor="middle">stage</text>
<path d="M470.41,423.9v-3.3" stroke="#585858" stroke-width="1.3"/>
<text transform="translate(470.41,433.20) scale(0.9,1)" font-size="6.6" text-anchor="middle">2023.03</text>
<text transform="translate(470.41,440.70) scale(0.9,1)" font-size="6.6" text-anchor="middle">flowering</text>
<text transform="translate(470.41,448.20) scale(0.9,1)" font-size="6.6" text-anchor="middle">stage</text>
<path d="M499.46,423.9v-3.3" stroke="#585858" stroke-width="1.3"/>
<text transform="translate(499.46,433.20) scale(0.9,1)" font-size="6.6" text-anchor="middle">2023.05</text>
<text transform="translate(499.46,440.70) scale(0.9,1)" font-size="6.6" text-anchor="middle">maturity</text>
<text transform="translate(499.46,448.20) scale(0.9,1)" font-size="6.6" text-anchor="middle">stage</text>
<path d="M528.50,423.9v-3.3" stroke="#585858" stroke-width="1.3"/>
<text transform="translate(528.50,433.20) scale(0.9,1)" font-size="6.6" text-anchor="middle">2023.09</text>
<text transform="translate(528.50,440.70) scale(0.9,1)" font-size="6.6" text-anchor="middle">rice maturity</text>
<text transform="translate(528.50,448.20) scale(0.9,1)" font-size="6.6" text-anchor="middle">stage</text>
<text x="287.8" y="247.6" font-size="9.7">(d)</text>
<text transform="translate(296.5,330.3) rotate(-90)" x="0" y="0" font-size="10.2" text-anchor="middle" >CEC(cmol&#183;kg<tspan dy='-4' font-size='6'>-1</tspan><tspan dy='4'>)</tspan></text>
<path d="M502.9,244.40H522.2" stroke="#6398e0" stroke-width="0.9"/>
<rect x="509.90" y="241.90" width="5.00" height="5.00" fill="#4f86cf"/>
<text x="527.1" y="248.05" font-size="9.6" class="lg" textLength="9.46" lengthAdjust="spacingAndGlyphs">CK</text>
<path d="M502.9,255.00H522.2" stroke="#2ba77c" stroke-width="0.9"/>
<circle cx="512.40" cy="255.00" r="2.60" fill="#1b9e72"/>
<text x="527.1" y="258.65" font-size="9.6" class="lg" textLength="9.05" lengthAdjust="spacingAndGlyphs">YF</text>
<path d="M502.9,265.60H522.2" stroke="#8bd083" stroke-width="0.9"/>
<path d="M512.40,263.20L514.80,267.52L510.00,267.52Z" fill="#6cc06a"/>
<text x="527.1" y="269.25" font-size="9.6" class="lg" textLength="9.36" lengthAdjust="spacingAndGlyphs">YB</text>
<path d="M502.9,276.20H522.2" stroke="#d0eab3" stroke-width="0.9"/>
<circle cx="512.40" cy="276.20" r="2.05" fill="#fff" fill-opacity="0.6" stroke="#c6e4a2" stroke-width="1.10"/>
<text x="527.1" y="279.85" font-size="9.6" class="lg" textLength="8.74" lengthAdjust="spacingAndGlyphs">SF</text>
<path d="M502.9,286.80H522.2" stroke="#f8ea74" stroke-width="0.9"/>
<path d="M512.40,289.20L514.80,284.88L510.00,284.88Z" fill="#f6e86a"/>
<text x="527.1" y="290.45" font-size="9.6" class="lg" textLength="9.36" lengthAdjust="spacingAndGlyphs">SB</text>
<path d="M502.9,297.40H522.2" stroke="#fbbf98" stroke-width="0.9"/>
<path d="M510.30,297.40L514.08,295.30L514.08,299.50Z" fill="#f9bd98"/>
<text x="527.1" y="301.05" font-size="9.6" class="lg" textLength="14.04" lengthAdjust="spacingAndGlyphs">YSF</text>
<path d="M502.9,308.00H522.2" stroke="#f68a62" stroke-width="0.9"/>
<path d="M515.70,308.00L509.76,304.70L509.76,311.30Z" fill="#f5845c"/>
<text x="527.1" y="311.65" font-size="9.6" class="lg" textLength="14.25" lengthAdjust="spacingAndGlyphs">YSB</text>
<path d="M51.50,614.92L80.26,612.38M80.26,612.38L109.01,624.83M109.01,624.83L137.77,611.81M137.77,611.81L166.53,559.74M166.53,559.74L195.29,541.35M195.29,541.35L224.04,590.87M224.04,590.87L252.80,622.71" fill="none" stroke="#6398e0" stroke-width="1.0" stroke-linecap="round"/>
<path d="M80.26,611.95L109.01,625.68M109.01,625.68L137.77,616.48M137.77,616.48L166.53,535.97M166.53,535.97L195.29,521.39M195.29,521.39L224.04,597.52M224.04,597.52L252.80,623.27" fill="none" stroke="#2ba77c" stroke-width="1.0" stroke-linecap="round"/>
<path d="M80.26,611.95L109.01,624.12M109.01,624.12L137.77,588.61M137.77,588.61L166.53,549.27M166.53,549.27L195.29,518.85M195.29,518.85L224.04,582.52M224.04,582.52L252.80,622.71" fill="none" stroke="#8bd083" stroke-width="1.0" stroke-linecap="round"/>
<path d="M51.50,610.68L80.26,615.92M109.01,625.68L137.77,597.95M137.77,597.95L166.53,551.82M166.53,551.82L195.29,510.92M195.29,510.92L224.04,579.55M224.04,579.55L252.80,617.90" fill="none" stroke="#d0eab3" stroke-width="1.0" stroke-linecap="round"/>
<path d="M109.01,629.22L137.77,607.14M137.77,607.14L166.53,567.66M166.53,567.66L195.29,532.86M195.29,532.86L224.04,574.31M224.04,574.31L252.80,622.00" fill="none" stroke="#f8ea74" stroke-width="1.0" stroke-linecap="round"/>
<path d="M51.50,609.97L80.26,615.92M80.26,615.92L109.01,625.68M109.01,625.68L137.77,589.46M137.77,589.46L166.53,558.33M166.53,558.33L195.29,485.17M195.29,485.17L224.04,574.31M224.04,574.31L252.80,621.29" fill="none" stroke="#fbbf98" stroke-width="1.0" stroke-linecap="round"/>
<path d="M51.50,613.37L80.26,611.95M80.26,611.95L109.01,629.22M109.01,629.22L137.77,607.85M137.77,607.85L166.53,573.75M166.53,573.75L195.29,547.29M195.29,547.29L224.04,578.28M224.04,578.28L252.80,623.27" fill="none" stroke="#f68a62" stroke-width="1.0" stroke-linecap="round"/>
<rect x="49.00" y="612.42" width="5.00" height="5.00" fill="#4f86cf"/>
<rect x="77.76" y="609.88" width="5.00" height="5.00" fill="#4f86cf"/>
<rect x="106.51" y="622.33" width="5.00" height="5.00" fill="#4f86cf"/>
<rect x="135.27" y="609.31" width="5.00" height="5.00" fill="#4f86cf"/>
<rect x="164.03" y="557.24" width="5.00" height="5.00" fill="#4f86cf"/>
<rect x="192.79" y="538.85" width="5.00" height="5.00" fill="#4f86cf"/>
<rect x="221.54" y="588.37" width="5.00" height="5.00" fill="#4f86cf"/>
<rect x="250.30" y="620.21" width="5.00" height="5.00" fill="#4f86cf"/>
<circle cx="51.50" cy="613.37" r="2.60" fill="#1b9e72"/>
<circle cx="80.26" cy="611.95" r="2.60" fill="#1b9e72"/>
<circle cx="109.01" cy="625.68" r="2.60" fill="#1b9e72"/>
<circle cx="137.77" cy="616.48" r="2.60" fill="#1b9e72"/>
<path d="M166.53,527.48V544.46M165.03,527.48h3M165.03,544.46h3" stroke="#1b9e72" stroke-width="0.7" fill="none"/>
<circle cx="166.53" cy="535.97" r="2.60" fill="#1b9e72"/>
<circle cx="195.29" cy="521.39" r="2.60" fill="#1b9e72"/>
<path d="M224.04,591.86V603.18M222.54,591.86h3M222.54,603.18h3" stroke="#1b9e72" stroke-width="0.7" fill="none"/>
<circle cx="224.04" cy="597.52" r="2.60" fill="#1b9e72"/>
<circle cx="252.80" cy="623.27" r="2.60" fill="#1b9e72"/>
<path d="M51.50,610.97L53.90,615.29L49.10,615.29Z" fill="#6cc06a"/>
<path d="M80.26,609.55L82.66,613.87L77.86,613.87Z" fill="#6cc06a"/>
<path d="M109.01,621.72L111.41,626.04L106.61,626.04Z" fill="#6cc06a"/>
<path d="M137.77,586.21L140.17,590.53L135.37,590.53Z" fill="#6cc06a"/>
<path d="M166.53,546.87L168.93,551.19L164.13,551.19Z" fill="#6cc06a"/>
<path d="M195.29,516.45L197.69,520.77L192.89,520.77Z" fill="#6cc06a"/>
<path d="M224.04,580.12L226.44,584.44L221.64,584.44Z" fill="#6cc06a"/>
<path d="M252.80,620.31L255.20,624.63L250.40,624.63Z" fill="#6cc06a"/>
<circle cx="51.50" cy="610.68" r="2.05" fill="#fff" fill-opacity="0.6" stroke="#c6e4a2" stroke-width="1.10"/>
<circle cx="80.26" cy="615.92" r="2.05" fill="#fff" fill-opacity="0.6" stroke="#c6e4a2" stroke-width="1.10"/>
<circle cx="109.01" cy="625.68" r="2.05" fill="#fff" fill-opacity="0.6" stroke="#c6e4a2" stroke-width="1.10"/>
<circle cx="137.77" cy="597.95" r="2.05" fill="#fff" fill-opacity="0.6" stroke="#c6e4a2" stroke-width="1.10"/>
<circle cx="166.53" cy="551.82" r="2.05" fill="#fff" fill-opacity="0.6" stroke="#c6e4a2" stroke-width="1.10"/>
<circle cx="195.29" cy="510.92" r="2.05" fill="#fff" fill-opacity="0.6" stroke="#c6e4a2" stroke-width="1.10"/>
<circle cx="224.04" cy="579.55" r="2.05" fill="#fff" fill-opacity="0.6" stroke="#c6e4a2" stroke-width="1.10"/>
<circle cx="252.80" cy="617.90" r="2.05" fill="#fff" fill-opacity="0.6" stroke="#c6e4a2" stroke-width="1.10"/>
<path d="M51.50,615.77L53.90,611.45L49.10,611.45Z" fill="#f6e86a"/>
<path d="M80.26,614.35L82.66,610.03L77.86,610.03Z" fill="#f6e86a"/>
<path d="M109.01,631.62L111.41,627.30L106.61,627.30Z" fill="#f6e86a"/>
<path d="M137.77,609.54L140.17,605.22L135.37,605.22Z" fill="#f6e86a"/>
<path d="M166.53,570.06L168.93,565.74L164.13,565.74Z" fill="#f6e86a"/>
<path d="M195.29,535.26L197.69,530.94L192.89,530.94Z" fill="#f6e86a"/>
<path d="M224.04,576.71L226.44,572.39L221.64,572.39Z" fill="#f6e86a"/>
<path d="M252.80,624.40L255.20,620.08L250.40,620.08Z" fill="#f6e86a"/>
<path d="M49.40,609.97L53.18,607.87L53.18,612.07Z" fill="#f9bd98"/>
<path d="M78.16,615.92L81.94,613.82L81.94,618.02Z" fill="#f9bd98"/>
<path d="M106.91,625.68L110.69,623.58L110.69,627.78Z" fill="#f9bd98"/>
<path d="M135.67,589.46L139.45,587.36L139.45,591.56Z" fill="#f9bd98"/>
<path d="M164.43,558.33L168.21,556.23L168.21,560.43Z" fill="#f9bd98"/>
<path d="M195.29,481.63V488.71M193.79,481.63h3M193.79,488.71h3" stroke="#f9bd98" stroke-width="0.7" fill="none"/>
<path d="M193.19,485.17L196.97,483.07L196.97,487.27Z" fill="#f9bd98"/>
<path d="M221.94,574.31L225.72,572.21L225.72,576.41Z" fill="#f9bd98"/>
<path d="M250.70,621.29L254.48,619.19L254.48,623.39Z" fill="#f9bd98"/>
<path d="M51.50,604.88V621.86M50.00,604.88h3M50.00,621.86h3" stroke="#f5845c" stroke-width="0.7" fill="none"/>
<path d="M54.80,613.37L48.86,610.07L48.86,616.67Z" fill="#f5845c"/>
<path d="M83.56,611.95L77.62,608.65L77.62,615.25Z" fill="#f5845c"/>
<path d="M112.31,629.22L106.37,625.92L106.37,632.52Z" fill="#f5845c"/>
<path d="M141.07,607.85L135.13,604.55L135.13,611.15Z" fill="#f5845c"/>
<path d="M169.83,573.75L163.89,570.45L163.89,577.05Z" fill="#f5845c"/>
<path d="M198.59,547.29L192.65,543.99L192.65,550.59Z" fill="#f5845c"/>
<path d="M227.34,578.28L221.40,574.98L221.40,581.58Z" fill="#f5845c"/>
<path d="M256.10,623.27L250.16,619.97L250.16,626.57Z" fill="#f5845c"/>
<rect x="38.4" y="466.1" width="229.29999999999998" height="184.19999999999993" fill="none" stroke="#585858" stroke-width="1.25"/>
<path d="M38.4,650.30h3.3" stroke="#585858" stroke-width="1.3"/>
<text transform="translate(34.60,652.93) scale(1.02,1)" font-size="7.3" text-anchor="end">0</text>
<path d="M38.4,622.00h3.3" stroke="#585858" stroke-width="1.3"/>
<text transform="translate(34.60,624.63) scale(1.02,1)" font-size="7.3" text-anchor="end">200</text>
<path d="M38.4,593.70h3.3" stroke="#585858" stroke-width="1.3"/>
<text transform="translate(34.60,596.33) scale(1.02,1)" font-size="7.3" text-anchor="end">400</text>
<path d="M38.4,565.40h3.3" stroke="#585858" stroke-width="1.3"/>
<text transform="translate(34.60,568.03) scale(1.02,1)" font-size="7.3" text-anchor="end">600</text>
<path d="M38.4,537.10h3.3" stroke="#585858" stroke-width="1.3"/>
<text transform="translate(34.60,539.73) scale(1.02,1)" font-size="7.3" text-anchor="end">800</text>
<path d="M38.4,508.80h3.3" stroke="#585858" stroke-width="1.3"/>
<text transform="translate(34.60,511.43) scale(1.02,1)" font-size="7.3" text-anchor="end">1000</text>
<path d="M38.4,480.50h3.3" stroke="#585858" stroke-width="1.3"/>
<text transform="translate(34.60,483.13) scale(1.02,1)" font-size="7.3" text-anchor="end">1200</text>
<path d="M51.50,650.3v-3.3" stroke="#585858" stroke-width="1.3"/>
<text transform="translate(51.50,659.70) scale(0.91,1)" font-size="6.6" text-anchor="middle">2022.01</text>
<text transform="translate(51.50,667.05) scale(0.91,1)" font-size="6.6" text-anchor="middle">bolting</text>
<text transform="translate(51.50,674.40) scale(0.91,1)" font-size="6.6" text-anchor="middle">stage</text>
<path d="M80.26,650.3v-3.3" stroke="#585858" stroke-width="1.3"/>
<text transform="translate(80.26,659.70) scale(0.91,1)" font-size="6.6" text-anchor="middle">2022.03</text>
<text transform="translate(80.26,667.05) scale(0.91,1)" font-size="6.6" text-anchor="middle">flowering</text>
<text transform="translate(80.26,674.40) scale(0.91,1)" font-size="6.6" text-anchor="middle">stage</text>
<path d="M109.01,650.3v-3.3" stroke="#585858" stroke-width="1.3"/>
<text transform="translate(109.01,659.70) scale(0.91,1)" font-size="6.6" text-anchor="middle">2022.04</text>
<text transform="translate(109.01,667.05) scale(0.91,1)" font-size="6.6" text-anchor="middle">maturity</text>
<text transform="translate(109.01,674.40) scale(0.91,1)" font-size="6.6" text-anchor="middle">stage</text>
<path d="M137.77,650.3v-3.3" stroke="#585858" stroke-width="1.3"/>
<text transform="translate(137.77,659.70) scale(0.91,1)" font-size="6.6" text-anchor="middle">2022.09</text>
<text transform="translate(137.77,667.05) scale(0.91,1)" font-size="6.6" text-anchor="middle">rice maturity</text>
<text transform="translate(137.77,674.40) scale(0.91,1)" font-size="6.6" text-anchor="middle">stage</text>
<path d="M166.53,650.3v-3.3" stroke="#585858" stroke-width="1.3"/>
<text transform="translate(166.53,659.70) scale(0.91,1)" font-size="6.6" text-anchor="middle">2022.12</text>
<text transform="translate(166.53,667.05) scale(0.91,1)" font-size="6.6" text-anchor="middle">bolting</text>
<text transform="translate(166.53,674.40) scale(0.91,1)" font-size="6.6" text-anchor="middle">stage</text>
<path d="M195.29,650.3v-3.3" stroke="#585858" stroke-width="1.3"/>
<text transform="translate(195.29,659.70) scale(0.91,1)" font-size="6.6" text-anchor="middle">2023.03</text>
<text transform="translate(195.29,667.05) scale(0.91,1)" font-size="6.6" text-anchor="middle">flowering</text>
<text transform="translate(195.29,674.40) scale(0.91,1)" font-size="6.6" text-anchor="middle">stage</text>
<path d="M224.04,650.3v-3.3" stroke="#585858" stroke-width="1.3"/>
<text transform="translate(224.04,659.70) scale(0.91,1)" font-size="6.6" text-anchor="middle">2023.05</text>
<text transform="translate(224.04,667.05) scale(0.91,1)" font-size="6.6" text-anchor="middle">maturity</text>
<text transform="translate(224.04,674.40) scale(0.91,1)" font-size="6.6" text-anchor="middle">stage</text>
<path d="M252.80,650.3v-3.3" stroke="#585858" stroke-width="1.3"/>
<text transform="translate(252.80,659.70) scale(0.91,1)" font-size="6.6" text-anchor="middle">2023.09</text>
<text transform="translate(252.80,667.05) scale(0.91,1)" font-size="6.6" text-anchor="middle">rice maturity</text>
<text transform="translate(252.80,674.40) scale(0.91,1)" font-size="6.6" text-anchor="middle">stage</text>
<text x="5.7" y="477.8" font-size="9.7">(e)</text>
<text transform="translate(15.2,558.0) rotate(-90)" x="0" y="0" font-size="10.2" text-anchor="middle" >AP(mg&#183;kg<tspan dy='-4' font-size='6'>-1</tspan><tspan dy='4'>)</tspan></text>
<path d="M225.2,475.50H245.6" stroke="#6398e0" stroke-width="0.9"/>
<rect x="233.00" y="473.00" width="5.00" height="5.00" fill="#4f86cf"/>
<text x="249.7" y="479.15" font-size="9.6" class="lg" textLength="9.46" lengthAdjust="spacingAndGlyphs">CK</text>
<path d="M225.2,486.00H245.6" stroke="#2ba77c" stroke-width="0.9"/>
<circle cx="235.50" cy="486.00" r="2.60" fill="#1b9e72"/>
<text x="249.7" y="489.65" font-size="9.6" class="lg" textLength="9.05" lengthAdjust="spacingAndGlyphs">YF</text>
<path d="M225.2,496.50H245.6" stroke="#8bd083" stroke-width="0.9"/>
<path d="M235.50,494.10L237.90,498.42L233.10,498.42Z" fill="#6cc06a"/>
<text x="249.7" y="500.15" font-size="9.6" class="lg" textLength="9.36" lengthAdjust="spacingAndGlyphs">YB</text>
<path d="M225.2,507.00H245.6" stroke="#d0eab3" stroke-width="0.9"/>
<circle cx="235.50" cy="507.00" r="2.05" fill="#fff" fill-opacity="0.6" stroke="#c6e4a2" stroke-width="1.10"/>
<text x="249.7" y="510.65" font-size="9.6" class="lg" textLength="8.74" lengthAdjust="spacingAndGlyphs">SF</text>
<path d="M225.2,517.50H245.6" stroke="#f8ea74" stroke-width="0.9"/>
<path d="M235.50,519.90L237.90,515.58L233.10,515.58Z" fill="#f6e86a"/>
<text x="249.7" y="521.15" font-size="9.6" class="lg" textLength="9.36" lengthAdjust="spacingAndGlyphs">SB</text>
<path d="M225.2,528.00H245.6" stroke="#fbbf98" stroke-width="0.9"/>
<path d="M233.40,528.00L237.18,525.90L237.18,530.10Z" fill="#f9bd98"/>
<text x="249.7" y="531.65" font-size="9.6" class="lg" textLength="14.04" lengthAdjust="spacingAndGlyphs">YSF</text>
<path d="M225.2,538.50H245.6" stroke="#f68a62" stroke-width="0.9"/>
<path d="M238.80,538.50L232.86,535.20L232.86,541.80Z" fill="#f5845c"/>
<text x="249.7" y="542.15" font-size="9.6" class="lg" textLength="14.25" lengthAdjust="spacingAndGlyphs">YSB</text>
<path d="M328.60,503.90L357.46,486.38M357.46,486.38L386.31,599.08M386.31,599.08L415.17,557.93M415.17,557.93L444.03,541.34M444.03,541.34L472.89,540.94M472.89,540.94L501.74,551.43M501.74,551.43L530.60,631.61" fill="none" stroke="#6398e0" stroke-width="1.0" stroke-linecap="round"/>
<path d="M415.17,567.76L444.03,543.06M444.03,543.06L472.89,544.66M472.89,544.66L501.74,554.88M501.74,554.88L530.60,630.01" fill="none" stroke="#2ba77c" stroke-width="1.0" stroke-linecap="round"/>
<path d="M328.60,503.90L357.46,489.96M386.31,596.16L415.17,567.76M415.17,567.76L444.03,542.40M444.03,542.40L472.89,544.66M472.89,544.66L501.74,553.68M501.74,553.68L530.60,630.01" fill="none" stroke="#8bd083" stroke-width="1.0" stroke-linecap="round"/>
<path d="M386.31,596.16L415.17,564.97M415.17,564.97L444.03,540.41M444.03,540.41L472.89,536.82M472.89,536.82L501.74,534.57M501.74,534.57L530.60,628.69" fill="none" stroke="#d0eab3" stroke-width="1.0" stroke-linecap="round"/>
<path d="M386.31,608.11L415.17,572.27M415.17,572.27L444.03,541.07M444.03,541.07L472.89,543.73M472.89,543.73L501.74,552.36M501.74,552.36L530.60,628.69" fill="none" stroke="#f8ea74" stroke-width="1.0" stroke-linecap="round"/>
<path d="M328.60,493.28L357.46,489.96M357.46,489.96L386.31,596.16M386.31,596.16L415.17,562.31M415.17,562.31L444.03,537.89M444.03,537.89L472.89,537.09M472.89,537.09L501.74,549.04M501.74,549.04L530.60,628.02" fill="none" stroke="#fbbf98" stroke-width="1.0" stroke-linecap="round"/>
<path d="M328.60,489.57L357.46,483.19M357.46,483.19L386.31,608.11M386.31,608.11L415.17,557.93M415.17,557.93L444.03,534.97M444.03,534.97L472.89,535.63M472.89,535.63L501.74,547.05M501.74,547.05L530.60,626.30" fill="none" stroke="#f68a62" stroke-width="1.0" stroke-linecap="round"/>
<rect x="326.10" y="501.40" width="5.00" height="5.00" fill="#4f86cf"/>
<rect x="354.96" y="483.88" width="5.00" height="5.00" fill="#4f86cf"/>
<rect x="383.81" y="596.58" width="5.00" height="5.00" fill="#4f86cf"/>
<rect x="412.67" y="555.43" width="5.00" height="5.00" fill="#4f86cf"/>
<rect x="441.53" y="538.84" width="5.00" height="5.00" fill="#4f86cf"/>
<rect x="470.39" y="538.44" width="5.00" height="5.00" fill="#4f86cf"/>
<rect x="499.24" y="548.93" width="5.00" height="5.00" fill="#4f86cf"/>
<rect x="528.10" y="629.11" width="5.00" height="5.00" fill="#4f86cf"/>
<circle cx="328.60" cy="503.90" r="2.60" fill="#1b9e72"/>
<circle cx="357.46" cy="489.96" r="2.60" fill="#1b9e72"/>
<circle cx="386.31" cy="596.16" r="2.60" fill="#1b9e72"/>
<circle cx="415.17" cy="567.76" r="2.60" fill="#1b9e72"/>
<circle cx="444.03" cy="543.06" r="2.60" fill="#1b9e72"/>
<circle cx="472.89" cy="544.66" r="2.60" fill="#1b9e72"/>
<circle cx="501.74" cy="554.88" r="2.60" fill="#1b9e72"/>
<circle cx="530.60" cy="630.01" r="2.60" fill="#1b9e72"/>
<path d="M328.60,499.92V507.88M327.10,499.92h3M327.10,507.88h3" stroke="#6cc06a" stroke-width="0.7" fill="none"/>
<path d="M328.60,501.50L331.00,505.82L326.20,505.82Z" fill="#6cc06a"/>
<path d="M357.46,487.56L359.86,491.88L355.06,491.88Z" fill="#6cc06a"/>
<path d="M386.31,593.76L388.71,598.08L383.91,598.08Z" fill="#6cc06a"/>
<path d="M415.17,562.45V573.07M413.67,562.45h3M413.67,573.07h3" stroke="#6cc06a" stroke-width="0.7" fill="none"/>
<path d="M415.17,565.36L417.57,569.68L412.77,569.68Z" fill="#6cc06a"/>
<path d="M444.03,540.00L446.43,544.32L441.63,544.32Z" fill="#6cc06a"/>
<path d="M472.89,542.26L475.29,546.58L470.49,546.58Z" fill="#6cc06a"/>
<path d="M501.74,551.28L504.14,555.60L499.34,555.60Z" fill="#6cc06a"/>
<path d="M530.60,627.62L533.00,631.93L528.20,631.93Z" fill="#6cc06a"/>
<circle cx="328.60" cy="493.28" r="2.05" fill="#fff" fill-opacity="0.6" stroke="#c6e4a2" stroke-width="1.10"/>
<circle cx="357.46" cy="489.96" r="2.05" fill="#fff" fill-opacity="0.6" stroke="#c6e4a2" stroke-width="1.10"/>
<circle cx="386.31" cy="596.16" r="2.05" fill="#fff" fill-opacity="0.6" stroke="#c6e4a2" stroke-width="1.10"/>
<circle cx="415.17" cy="564.97" r="2.05" fill="#fff" fill-opacity="0.6" stroke="#c6e4a2" stroke-width="1.10"/>
<circle cx="444.03" cy="540.41" r="2.05" fill="#fff" fill-opacity="0.6" stroke="#c6e4a2" stroke-width="1.10"/>
<circle cx="472.89" cy="536.82" r="2.05" fill="#fff" fill-opacity="0.6" stroke="#c6e4a2" stroke-width="1.10"/>
<circle cx="501.74" cy="534.57" r="2.05" fill="#fff" fill-opacity="0.6" stroke="#c6e4a2" stroke-width="1.10"/>
<circle cx="530.60" cy="628.69" r="2.05" fill="#fff" fill-opacity="0.6" stroke="#c6e4a2" stroke-width="1.10"/>
<path d="M328.60,491.97L331.00,487.65L326.20,487.65Z" fill="#f6e86a"/>
<path d="M357.46,485.59L359.86,481.27L355.06,481.27Z" fill="#f6e86a"/>
<path d="M386.31,610.51L388.71,606.19L383.91,606.19Z" fill="#f6e86a"/>
<path d="M415.17,574.67L417.57,570.35L412.77,570.35Z" fill="#f6e86a"/>
<path d="M444.03,543.47L446.43,539.15L441.63,539.15Z" fill="#f6e86a"/>
<path d="M472.89,546.13L475.29,541.81L470.49,541.81Z" fill="#f6e86a"/>
<path d="M501.74,554.76L504.14,550.44L499.34,550.44Z" fill="#f6e86a"/>
<path d="M530.60,631.09L533.00,626.77L528.20,626.77Z" fill="#f6e86a"/>
<path d="M326.50,493.28L330.28,491.18L330.28,495.38Z" fill="#f9bd98"/>
<path d="M357.46,485.98V493.95M355.96,485.98h3M355.96,493.95h3" stroke="#f9bd98" stroke-width="0.7" fill="none"/>
<path d="M355.36,489.96L359.14,487.86L359.14,492.06Z" fill="#f9bd98"/>
<path d="M384.21,596.16L387.99,594.06L387.99,598.26Z" fill="#f9bd98"/>
<path d="M413.07,562.31L416.85,560.21L416.85,564.41Z" fill="#f9bd98"/>
<path d="M441.93,537.89L445.71,535.79L445.71,539.99Z" fill="#f9bd98"/>
<path d="M470.79,537.09L474.57,534.99L474.57,539.19Z" fill="#f9bd98"/>
<path d="M499.64,549.04L503.42,546.94L503.42,551.14Z" fill="#f9bd98"/>
<path d="M528.50,628.02L532.28,625.92L532.28,630.12Z" fill="#f9bd98"/>
<path d="M328.60,484.26V494.88M327.10,484.26h3M327.10,494.88h3" stroke="#f5845c" stroke-width="0.7" fill="none"/>
<path d="M331.90,489.57L325.96,486.27L325.96,492.87Z" fill="#f5845c"/>
<path d="M357.46,480.54V485.85M355.96,480.54h3M355.96,485.85h3" stroke="#f5845c" stroke-width="0.7" fill="none"/>
<path d="M360.76,483.19L354.82,479.89L354.82,486.49Z" fill="#f5845c"/>
<path d="M389.61,608.11L383.67,604.81L383.67,611.41Z" fill="#f5845c"/>
<path d="M415.17,553.95V561.91M413.67,553.95h3M413.67,561.91h3" stroke="#f5845c" stroke-width="0.7" fill="none"/>
<path d="M418.47,557.93L412.53,554.63L412.53,561.23Z" fill="#f5845c"/>
<path d="M447.33,534.97L441.39,531.67L441.39,538.27Z" fill="#f5845c"/>
<path d="M476.19,535.63L470.25,532.33L470.25,538.93Z" fill="#f5845c"/>
<path d="M505.04,547.05L499.10,543.75L499.10,550.35Z" fill="#f5845c"/>
<path d="M533.90,626.30L527.96,623.00L527.96,629.60Z" fill="#f5845c"/>
<rect x="313.7" y="463.1" width="230.59999999999997" height="185.5" fill="none" stroke="#585858" stroke-width="1.25"/>
<path d="M313.7,648.60h3.3" stroke="#585858" stroke-width="1.3"/>
<text transform="translate(310.40,651.23) scale(1.02,1)" font-size="7.3" text-anchor="end">0</text>
<path d="M313.7,622.05h3.3" stroke="#585858" stroke-width="1.3"/>
<text transform="translate(310.40,624.68) scale(1.02,1)" font-size="7.3" text-anchor="end">20</text>
<path d="M313.7,595.50h3.3" stroke="#585858" stroke-width="1.3"/>
<text transform="translate(310.40,598.13) scale(1.02,1)" font-size="7.3" text-anchor="end">40</text>
<path d="M313.7,568.95h3.3" stroke="#585858" stroke-width="1.3"/>
<text transform="translate(310.40,571.58) scale(1.02,1)" font-size="7.3" text-anchor="end">60</text>
<path d="M313.7,542.40h3.3" stroke="#585858" stroke-width="1.3"/>
<text transform="translate(310.40,545.03) scale(1.02,1)" font-size="7.3" text-anchor="end">80</text>
<path d="M313.7,515.85h3.3" stroke="#585858" stroke-width="1.3"/>
<text transform="translate(310.40,518.48) scale(1.02,1)" font-size="7.3" text-anchor="end">100</text>
<path d="M313.7,489.30h3.3" stroke="#585858" stroke-width="1.3"/>
<text transform="translate(310.40,491.93) scale(1.02,1)" font-size="7.3" text-anchor="end">120</text>
<path d="M313.7,462.75h3.3" stroke="#585858" stroke-width="1.3"/>
<text transform="translate(310.40,465.38) scale(1.02,1)" font-size="7.3" text-anchor="end">140</text>
<path d="M328.60,648.6v-3.3" stroke="#585858" stroke-width="1.3"/>
<text transform="translate(328.60,657.90) scale(0.9,1)" font-size="6.6" text-anchor="middle">2022.01</text>
<text transform="translate(328.60,665.35) scale(0.9,1)" font-size="6.6" text-anchor="middle">bolting</text>
<text transform="translate(328.60,672.80) scale(0.9,1)" font-size="6.6" text-anchor="middle">stage</text>
<path d="M357.46,648.6v-3.3" stroke="#585858" stroke-width="1.3"/>
<text transform="translate(357.46,657.90) scale(0.9,1)" font-size="6.6" text-anchor="middle">2022.03</text>
<text transform="translate(357.46,665.35) scale(0.9,1)" font-size="6.6" text-anchor="middle">flowering</text>
<text transform="translate(357.46,672.80) scale(0.9,1)" font-size="6.6" text-anchor="middle">stage</text>
<path d="M386.31,648.6v-3.3" stroke="#585858" stroke-width="1.3"/>
<text transform="translate(386.31,657.90) scale(0.9,1)" font-size="6.6" text-anchor="middle">2022.04</text>
<text transform="translate(386.31,665.35) scale(0.9,1)" font-size="6.6" text-anchor="middle">maturity</text>
<text transform="translate(386.31,672.80) scale(0.9,1)" font-size="6.6" text-anchor="middle">stage</text>
<path d="M415.17,648.6v-3.3" stroke="#585858" stroke-width="1.3"/>
<text transform="translate(415.17,657.90) scale(0.9,1)" font-size="6.6" text-anchor="middle">2022.09</text>
<text transform="translate(415.17,665.35) scale(0.9,1)" font-size="6.6" text-anchor="middle">rice maturity</text>
<text transform="translate(415.17,672.80) scale(0.9,1)" font-size="6.6" text-anchor="middle">stage</text>
<path d="M444.03,648.6v-3.3" stroke="#585858" stroke-width="1.3"/>
<text transform="translate(444.03,657.90) scale(0.9,1)" font-size="6.6" text-anchor="middle">2022.12</text>
<text transform="translate(444.03,665.35) scale(0.9,1)" font-size="6.6" text-anchor="middle">bolting</text>
<text transform="translate(444.03,672.80) scale(0.9,1)" font-size="6.6" text-anchor="middle">stage</text>
<path d="M472.89,648.6v-3.3" stroke="#585858" stroke-width="1.3"/>
<text transform="translate(472.89,657.90) scale(0.9,1)" font-size="6.6" text-anchor="middle">2023.03</text>
<text transform="translate(472.89,665.35) scale(0.9,1)" font-size="6.6" text-anchor="middle">flowering</text>
<text transform="translate(472.89,672.80) scale(0.9,1)" font-size="6.6" text-anchor="middle">stage</text>
<path d="M501.74,648.6v-3.3" stroke="#585858" stroke-width="1.3"/>
<text transform="translate(501.74,657.90) scale(0.9,1)" font-size="6.6" text-anchor="middle">2023.05</text>
<text transform="translate(501.74,665.35) scale(0.9,1)" font-size="6.6" text-anchor="middle">maturity</text>
<text transform="translate(501.74,672.80) scale(0.9,1)" font-size="6.6" text-anchor="middle">stage</text>
<path d="M530.60,648.6v-3.3" stroke="#585858" stroke-width="1.3"/>
<text transform="translate(530.60,657.90) scale(0.9,1)" font-size="6.6" text-anchor="middle">2023.09</text>
<text transform="translate(530.60,665.35) scale(0.9,1)" font-size="6.6" text-anchor="middle">rice maturity</text>
<text transform="translate(530.60,672.80) scale(0.9,1)" font-size="6.6" text-anchor="middle">stage</text>
<text x="286.6" y="471.1" font-size="9.7">(f)</text>
<text transform="translate(294.7,558.2) rotate(-90)" x="0" y="0" font-size="10.2" text-anchor="middle" >EC&#160;&#160;&#8201;(&#956;S&#183;cm<tspan dy='-4' font-size='6'>-1</tspan><tspan dy='4'>)</tspan></text>
<path d="M503.9,469.70H523.0" stroke="#6398e0" stroke-width="0.9"/>
<rect x="510.70" y="467.20" width="5.00" height="5.00" fill="#4f86cf"/>
<text x="527.4" y="473.35" font-size="9.6" class="lg" textLength="9.46" lengthAdjust="spacingAndGlyphs">CK</text>
<path d="M503.9,480.30H523.0" stroke="#2ba77c" stroke-width="0.9"/>
<circle cx="513.20" cy="480.30" r="2.60" fill="#1b9e72"/>
<text x="527.4" y="483.95" font-size="9.6" class="lg" textLength="9.05" lengthAdjust="spacingAndGlyphs">YF</text>
<path d="M503.9,490.90H523.0" stroke="#8bd083" stroke-width="0.9"/>
<path d="M513.20,488.50L515.60,492.82L510.80,492.82Z" fill="#6cc06a"/>
<text x="527.4" y="494.55" font-size="9.6" class="lg" textLength="9.36" lengthAdjust="spacingAndGlyphs">YB</text>
<path d="M503.9,501.50H523.0" stroke="#d0eab3" stroke-width="0.9"/>
<circle cx="513.20" cy="501.50" r="2.05" fill="#fff" fill-opacity="0.6" stroke="#c6e4a2" stroke-width="1.10"/>
<text x="527.4" y="505.15" font-size="9.6" class="lg" textLength="8.74" lengthAdjust="spacingAndGlyphs">SF</text>
<path d="M503.9,512.10H523.0" stroke="#f8ea74" stroke-width="0.9"/>
<path d="M513.20,514.50L515.60,510.18L510.80,510.18Z" fill="#f6e86a"/>
<text x="527.4" y="515.75" font-size="9.6" class="lg" textLength="9.36" lengthAdjust="spacingAndGlyphs">SB</text>
<path d="M503.9,522.70H523.0" stroke="#fbbf98" stroke-width="0.9"/>
<path d="M511.10,522.70L514.88,520.60L514.88,524.80Z" fill="#f9bd98"/>
<text x="527.4" y="526.35" font-size="9.6" class="lg" textLength="14.04" lengthAdjust="spacingAndGlyphs">YSF</text>
<path d="M503.9,533.30H523.0" stroke="#f68a62" stroke-width="0.9"/>
<path d="M516.50,533.30L510.56,530.00L510.56,536.60Z" fill="#f5845c"/>
<text x="527.4" y="536.95" font-size="9.6" class="lg" textLength="14.25" lengthAdjust="spacingAndGlyphs">YSB</text>
</svg>
</body></html>
